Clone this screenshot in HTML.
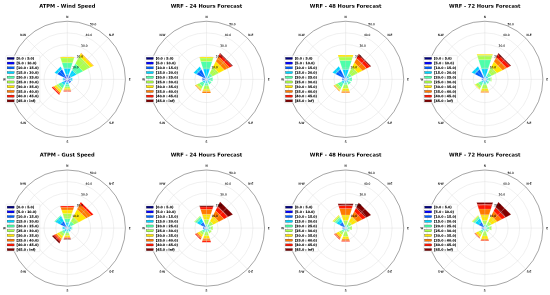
<!DOCTYPE html>
<html><head><meta charset="utf-8"><title>Wind roses</title>
<style>html,body{margin:0;padding:0;background:#fff}svg{display:block}text{font-family:"DejaVu Sans","Liberation Sans",sans-serif;text-rendering:geometricPrecision}path{stroke:#fff;stroke-width:0.14}</style></head><body>
<svg width="550" height="295" viewBox="0 0 550 295">
<defs><filter id="soft" x="0" y="0" width="550" height="295" filterUnits="userSpaceOnUse"><feGaussianBlur stdDeviation="0.3"/></filter></defs>
<rect width="550" height="295" fill="#fff"/>
<g filter="url(#soft)"><rect width="550" height="295" fill="#fff"/>
<g>
<text x="67.30" y="7.85" font-size="5.15" text-anchor="middle" font-weight="bold" fill="#000" transform="rotate(0.05 67.30 7.85)">ATPM - Wind Speed</text>
<path d="M67.30 79.35L67.14 78.85L67.46 78.85Z" fill="#000080"/>
<path d="M67.14 78.85L66.60 77.15L68.00 77.15L67.46 78.85Z" fill="#0000ff"/>
<path d="M66.60 77.15L65.86 74.84L68.74 74.84L68.00 77.15Z" fill="#0060ff"/>
<path d="M65.86 74.84L63.75 68.23L70.85 68.23L68.74 74.84Z" fill="#00d4ff"/>
<path d="M63.75 68.23L61.99 62.72L72.61 62.72L70.85 68.23Z" fill="#4dffaa"/>
<path d="M61.99 62.72L60.46 57.91L74.14 57.91L72.61 62.72Z" fill="#aaff4d"/>
<path d="M60.46 57.91L60.17 57.01L74.43 57.01L74.14 57.91Z" fill="#ffe600"/>
<path d="M67.30 79.35L67.53 78.91L67.74 79.12Z" fill="#000080"/>
<path d="M67.53 78.91L68.31 77.40L69.25 78.34L67.74 79.12Z" fill="#0000ff"/>
<path d="M68.31 77.40L69.23 75.62L71.03 77.42L69.25 78.34Z" fill="#0060ff"/>
<path d="M69.23 75.62L72.12 70.02L76.63 74.53L71.03 77.42Z" fill="#00d4ff"/>
<path d="M72.12 70.02L75.42 63.62L83.03 71.23L76.63 74.53Z" fill="#4dffaa"/>
<path d="M75.42 63.62L79.32 56.07L90.58 67.33L83.03 71.23Z" fill="#aaff4d"/>
<path d="M79.32 56.07L80.74 53.31L93.34 65.91L90.58 67.33Z" fill="#ffe600"/>
<path d="M80.74 53.31L80.97 52.87L93.78 65.68L93.34 65.91Z" fill="#ff7a00"/>
<path d="M67.30 79.35L67.80 79.19L67.80 79.51Z" fill="#000080"/>
<path d="M67.80 79.19L68.80 78.87L68.80 79.83L67.80 79.51Z" fill="#0000ff"/>
<path d="M68.80 78.87L70.10 78.45L70.10 80.25L68.80 79.83Z" fill="#0060ff"/>
<path d="M70.10 78.45L72.31 77.75L72.31 80.95L70.10 80.25Z" fill="#00d4ff"/>
<path d="M67.30 79.35L67.77 79.59L67.54 79.82Z" fill="#000080"/>
<path d="M67.77 79.59L69.73 80.60L68.55 81.78L67.54 79.82Z" fill="#0000ff"/>
<path d="M69.73 80.60L71.22 81.38L69.33 83.27L68.55 81.78Z" fill="#0060ff"/>
<path d="M67.30 79.35L67.46 79.85L67.14 79.85Z" fill="#000080"/>
<path d="M67.46 79.85L67.88 81.15L66.72 81.15L67.14 79.85Z" fill="#0000ff"/>
<path d="M67.88 81.15L68.26 82.36L66.34 82.36L66.72 81.15Z" fill="#0060ff"/>
<path d="M68.26 82.36L68.90 84.36L65.70 84.36L66.34 82.36Z" fill="#00d4ff"/>
<path d="M68.90 84.36L69.63 86.66L64.97 86.66L65.70 84.36Z" fill="#4dffaa"/>
<path d="M69.63 86.66L70.18 88.37L64.42 88.37L64.97 86.66Z" fill="#aaff4d"/>
<path d="M70.18 88.37L70.62 89.77L63.98 89.77L64.42 88.37Z" fill="#ffe600"/>
<path d="M70.62 89.77L70.91 90.67L63.69 90.67L63.98 89.77Z" fill="#ff7a00"/>
<path d="M70.91 90.67L71.17 91.47L63.43 91.47L63.69 90.67Z" fill="#ff1300"/>
<path d="M67.30 79.35L67.07 79.79L66.86 79.58Z" fill="#000080"/>
<path d="M67.07 79.79L66.38 81.13L65.52 80.27L66.86 79.58Z" fill="#0000ff"/>
<path d="M66.38 81.13L65.51 82.82L63.83 81.14L65.52 80.27Z" fill="#0060ff"/>
<path d="M65.51 82.82L64.14 85.48L61.17 82.51L63.83 81.14Z" fill="#00d4ff"/>
<path d="M64.14 85.48L62.58 88.50L58.15 84.07L61.17 82.51Z" fill="#4dffaa"/>
<path d="M62.58 88.50L61.38 90.81L55.84 85.27L58.15 84.07Z" fill="#aaff4d"/>
<path d="M61.38 90.81L60.42 92.68L53.97 86.23L55.84 85.27Z" fill="#ffe600"/>
<path d="M60.42 92.68L59.82 93.83L52.82 86.83L53.97 86.23Z" fill="#ff7a00"/>
<path d="M59.82 93.83L59.27 94.90L51.75 87.38L52.82 86.83Z" fill="#ff1300"/>
<path d="M67.30 79.35L66.80 79.51L66.80 79.19Z" fill="#000080"/>
<path d="M66.80 79.51L65.80 79.83L65.80 78.87L66.80 79.19Z" fill="#0000ff"/>
<path d="M65.80 79.83L64.09 80.37L64.09 78.33L65.80 78.87Z" fill="#0060ff"/>
<path d="M64.09 80.37L62.89 80.76L62.89 77.94L64.09 78.33Z" fill="#00d4ff"/>
<path d="M67.30 79.35L66.77 79.07L67.02 78.82Z" fill="#000080"/>
<path d="M66.77 79.07L64.37 77.84L65.79 76.42L67.02 78.82Z" fill="#0000ff"/>
<path d="M64.37 77.84L57.08 74.08L62.03 69.13L65.79 76.42Z" fill="#0060ff"/>
<path d="M57.08 74.08L54.50 72.75L60.70 66.55L62.03 69.13Z" fill="#00d4ff"/>
<line x1="67.30" y1="79.35" x2="65.32" y2="73.16" stroke="#fff" stroke-width="0.32" stroke-opacity="0.7"/>
<line x1="67.30" y1="79.35" x2="69.28" y2="73.16" stroke="#fff" stroke-width="0.32" stroke-opacity="0.7"/>
<line x1="67.30" y1="79.35" x2="70.28" y2="73.57" stroke="#fff" stroke-width="0.32" stroke-opacity="0.7"/>
<line x1="67.30" y1="79.35" x2="73.08" y2="76.37" stroke="#fff" stroke-width="0.32" stroke-opacity="0.7"/>
<line x1="67.30" y1="79.35" x2="72.31" y2="77.75" stroke="#fff" stroke-width="0.32" stroke-opacity="0.7"/>
<line x1="67.30" y1="79.35" x2="72.31" y2="80.95" stroke="#fff" stroke-width="0.32" stroke-opacity="0.7"/>
<line x1="67.30" y1="79.35" x2="71.22" y2="81.38" stroke="#fff" stroke-width="0.32" stroke-opacity="0.7"/>
<line x1="67.30" y1="79.35" x2="69.33" y2="83.27" stroke="#fff" stroke-width="0.32" stroke-opacity="0.7"/>
<line x1="67.30" y1="79.35" x2="69.28" y2="85.54" stroke="#fff" stroke-width="0.32" stroke-opacity="0.7"/>
<line x1="67.30" y1="79.35" x2="65.32" y2="85.54" stroke="#fff" stroke-width="0.32" stroke-opacity="0.7"/>
<line x1="67.30" y1="79.35" x2="64.32" y2="85.13" stroke="#fff" stroke-width="0.32" stroke-opacity="0.7"/>
<line x1="67.30" y1="79.35" x2="61.52" y2="82.33" stroke="#fff" stroke-width="0.32" stroke-opacity="0.7"/>
<line x1="67.30" y1="79.35" x2="62.89" y2="80.76" stroke="#fff" stroke-width="0.32" stroke-opacity="0.7"/>
<line x1="67.30" y1="79.35" x2="62.89" y2="77.94" stroke="#fff" stroke-width="0.32" stroke-opacity="0.7"/>
<line x1="67.30" y1="79.35" x2="61.52" y2="76.37" stroke="#fff" stroke-width="0.32" stroke-opacity="0.7"/>
<line x1="67.30" y1="79.35" x2="64.32" y2="73.57" stroke="#fff" stroke-width="0.32" stroke-opacity="0.7"/>
<circle cx="67.30" cy="79.35" r="1.1" fill="#fff" fill-opacity="0.45"/>
<circle cx="67.30" cy="79.35" r="11.62" fill="none" stroke="#d4d4d4" stroke-width="0.35"/>
<circle cx="67.30" cy="79.35" r="23.24" fill="none" stroke="#d4d4d4" stroke-width="0.35"/>
<circle cx="67.30" cy="79.35" r="34.86" fill="none" stroke="#d4d4d4" stroke-width="0.35"/>
<circle cx="67.30" cy="79.35" r="46.48" fill="none" stroke="#d4d4d4" stroke-width="0.35"/>
<line x1="67.30" y1="79.35" x2="67.30" y2="21.25" stroke="#d4d4d4" stroke-width="0.35"/>
<line x1="67.30" y1="79.35" x2="108.38" y2="38.27" stroke="#d4d4d4" stroke-width="0.35"/>
<line x1="67.30" y1="79.35" x2="125.40" y2="79.35" stroke="#d4d4d4" stroke-width="0.35"/>
<line x1="67.30" y1="79.35" x2="108.38" y2="120.43" stroke="#d4d4d4" stroke-width="0.35"/>
<line x1="67.30" y1="79.35" x2="67.30" y2="137.45" stroke="#d4d4d4" stroke-width="0.35"/>
<line x1="67.30" y1="79.35" x2="26.22" y2="120.43" stroke="#d4d4d4" stroke-width="0.35"/>
<line x1="67.30" y1="79.35" x2="9.20" y2="79.35" stroke="#d4d4d4" stroke-width="0.35"/>
<line x1="67.30" y1="79.35" x2="26.22" y2="38.27" stroke="#d4d4d4" stroke-width="0.35"/>
<circle cx="67.30" cy="79.35" r="58.10" fill="none" stroke="#2a2a2a" stroke-width="0.42"/>
<text x="67.30" y="18.00" font-size="2.9" text-anchor="middle" fill="#000" stroke="#000" stroke-width="0.09" transform="rotate(0.05 67.30 18.00)">N</text>
<text x="111.60" y="36.05" font-size="2.9" text-anchor="middle" fill="#000" stroke="#000" stroke-width="0.09" transform="rotate(0.05 111.60 36.05)">N-E</text>
<text x="129.60" y="80.40" font-size="2.9" text-anchor="middle" fill="#000" stroke="#000" stroke-width="0.09" transform="rotate(0.05 129.60 80.40)">E</text>
<text x="111.50" y="124.10" font-size="2.9" text-anchor="middle" fill="#000" stroke="#000" stroke-width="0.09" transform="rotate(0.05 111.50 124.10)">S-E</text>
<text x="67.30" y="142.75" font-size="2.9" text-anchor="middle" fill="#000" stroke="#000" stroke-width="0.09" transform="rotate(0.05 67.30 142.75)">S</text>
<text x="23.20" y="124.10" font-size="2.9" text-anchor="middle" fill="#000" stroke="#000" stroke-width="0.09" transform="rotate(0.05 23.20 124.10)">S-W</text>
<text x="4.40" y="80.40" font-size="2.9" text-anchor="middle" fill="#000" stroke="#000" stroke-width="0.09" transform="rotate(0.05 4.40 80.40)">W</text>
<text x="23.20" y="35.95" font-size="2.9" text-anchor="middle" fill="#000" stroke="#000" stroke-width="0.09" transform="rotate(0.05 23.20 35.95)">N-W</text>
<text x="75.45" y="68.21" font-size="2.9" text-anchor="middle" fill="#000" stroke="#000" stroke-width="0.05" transform="rotate(0.05 75.45 68.21)">10.0</text>
<text x="79.89" y="57.48" font-size="2.9" text-anchor="middle" fill="#000" stroke="#000" stroke-width="0.05" transform="rotate(0.05 79.89 57.48)">20.0</text>
<text x="84.34" y="46.74" font-size="2.9" text-anchor="middle" fill="#000" stroke="#000" stroke-width="0.05" transform="rotate(0.05 84.34 46.74)">30.0</text>
<text x="88.79" y="36.01" font-size="2.9" text-anchor="middle" fill="#000" stroke="#000" stroke-width="0.05" transform="rotate(0.05 88.79 36.01)">40.0</text>
<text x="93.23" y="25.27" font-size="2.9" text-anchor="middle" fill="#000" stroke="#000" stroke-width="0.05" transform="rotate(0.05 93.23 25.27)">50.0</text>
<rect x="5.95" y="55.45" width="33.9" height="47.4" rx="0.6" fill="#fff" fill-opacity="0.8" stroke="#d0d0d0" stroke-width="0.3"/>
<rect x="7.15" y="57.35" width="7.0" height="2.1" fill="#000080" stroke="#000" stroke-opacity="0.75" stroke-width="0.3"/>
<text x="16.55" y="59.59" font-size="3.2" font-weight="bold" fill="#000" stroke="#000" stroke-width="0.1" transform="rotate(0.05 16.55 59.59)">[0.0 : 5.0)</text>
<rect x="7.15" y="62.07" width="7.0" height="2.1" fill="#0000ff" stroke="#000" stroke-opacity="0.75" stroke-width="0.3"/>
<text x="16.55" y="64.31" font-size="3.2" font-weight="bold" fill="#000" stroke="#000" stroke-width="0.1" transform="rotate(0.05 16.55 64.31)">[5.0 : 10.0)</text>
<rect x="7.15" y="66.79" width="7.0" height="2.1" fill="#0060ff" stroke="#000" stroke-opacity="0.75" stroke-width="0.3"/>
<text x="16.55" y="69.03" font-size="3.2" font-weight="bold" fill="#000" stroke="#000" stroke-width="0.1" transform="rotate(0.05 16.55 69.03)">[10.0 : 15.0)</text>
<rect x="7.15" y="71.51" width="7.0" height="2.1" fill="#00d4ff" stroke="#000" stroke-opacity="0.75" stroke-width="0.3"/>
<text x="16.55" y="73.75" font-size="3.2" font-weight="bold" fill="#000" stroke="#000" stroke-width="0.1" transform="rotate(0.05 16.55 73.75)">[15.0 : 20.0)</text>
<rect x="7.15" y="76.23" width="7.0" height="2.1" fill="#4dffaa" stroke="#000" stroke-opacity="0.75" stroke-width="0.3"/>
<text x="16.55" y="78.47" font-size="3.2" font-weight="bold" fill="#000" stroke="#000" stroke-width="0.1" transform="rotate(0.05 16.55 78.47)">[20.0 : 25.0)</text>
<rect x="7.15" y="80.95" width="7.0" height="2.1" fill="#aaff4d" stroke="#000" stroke-opacity="0.75" stroke-width="0.3"/>
<text x="16.55" y="83.19" font-size="3.2" font-weight="bold" fill="#000" stroke="#000" stroke-width="0.1" transform="rotate(0.05 16.55 83.19)">[25.0 : 30.0)</text>
<rect x="7.15" y="85.67" width="7.0" height="2.1" fill="#ffe600" stroke="#000" stroke-opacity="0.75" stroke-width="0.3"/>
<text x="16.55" y="87.91" font-size="3.2" font-weight="bold" fill="#000" stroke="#000" stroke-width="0.1" transform="rotate(0.05 16.55 87.91)">[30.0 : 35.0)</text>
<rect x="7.15" y="90.39" width="7.0" height="2.1" fill="#ff7a00" stroke="#000" stroke-opacity="0.75" stroke-width="0.3"/>
<text x="16.55" y="92.63" font-size="3.2" font-weight="bold" fill="#000" stroke="#000" stroke-width="0.1" transform="rotate(0.05 16.55 92.63)">[35.0 : 40.0)</text>
<rect x="7.15" y="95.11" width="7.0" height="2.1" fill="#ff1300" stroke="#000" stroke-opacity="0.75" stroke-width="0.3"/>
<text x="16.55" y="97.35" font-size="3.2" font-weight="bold" fill="#000" stroke="#000" stroke-width="0.1" transform="rotate(0.05 16.55 97.35)">[40.0 : 45.0)</text>
<rect x="7.15" y="99.83" width="7.0" height="2.1" fill="#800000" stroke="#000" stroke-opacity="0.75" stroke-width="0.3"/>
<text x="16.55" y="102.07" font-size="3.2" font-weight="bold" fill="#000" stroke="#000" stroke-width="0.1" transform="rotate(0.05 16.55 102.07)">[45.0 : inf)</text>
</g>
<g>
<text x="206.47" y="7.85" font-size="5.15" text-anchor="middle" font-weight="bold" fill="#000" transform="rotate(0.05 206.47 7.85)">WRF - 24 Hours Forecast</text>
<path d="M206.47 79.35L206.37 79.05L206.57 79.05Z" fill="#000080"/>
<path d="M206.37 79.05L206.15 78.35L206.79 78.35L206.57 79.05Z" fill="#0000ff"/>
<path d="M206.15 78.35L205.96 77.75L206.98 77.75L206.79 78.35Z" fill="#0060ff"/>
<path d="M205.96 77.75L203.18 69.03L209.76 69.03L206.98 77.75Z" fill="#00d4ff"/>
<path d="M203.18 69.03L200.78 61.52L212.16 61.52L209.76 69.03Z" fill="#4dffaa"/>
<path d="M200.78 61.52L199.69 58.11L213.25 58.11L212.16 61.52Z" fill="#aaff4d"/>
<path d="M199.69 58.11L199.34 57.01L213.60 57.01L213.25 58.11Z" fill="#ffe600"/>
<path d="M206.47 79.35L206.61 79.08L206.74 79.21Z" fill="#000080"/>
<path d="M206.61 79.08L206.93 78.46L207.36 78.89L206.74 79.21Z" fill="#0000ff"/>
<path d="M206.93 78.46L207.20 77.93L207.89 78.62L207.36 78.89Z" fill="#0060ff"/>
<path d="M207.20 77.93L208.30 75.80L210.02 77.52L207.89 78.62Z" fill="#00d4ff"/>
<path d="M208.30 75.80L209.68 73.13L212.69 76.14L210.02 77.52Z" fill="#4dffaa"/>
<path d="M209.68 73.13L212.89 66.91L218.91 72.93L212.69 76.14Z" fill="#aaff4d"/>
<path d="M212.89 66.91L215.83 61.22L224.60 69.99L218.91 72.93Z" fill="#ffe600"/>
<path d="M215.83 61.22L218.44 56.16L229.66 67.38L224.60 69.99Z" fill="#ff7a00"/>
<path d="M218.44 56.16L219.63 53.85L231.97 66.19L229.66 67.38Z" fill="#ff1300"/>
<path d="M219.63 53.85L220.09 52.96L232.86 65.73L231.97 66.19Z" fill="#800000"/>
<path d="M206.47 79.35L206.77 79.25L206.77 79.45Z" fill="#000080"/>
<path d="M206.77 79.25L207.47 79.03L207.47 79.67L206.77 79.45Z" fill="#0000ff"/>
<path d="M207.47 79.03L208.07 78.84L208.07 79.86L207.47 79.67Z" fill="#0060ff"/>
<path d="M208.07 78.84L209.98 78.23L209.98 80.47L208.07 79.86Z" fill="#00d4ff"/>
<path d="M209.98 78.23L212.68 77.37L212.68 81.33L209.98 80.47Z" fill="#4dffaa"/>
<path d="M206.47 79.35L206.75 79.49L206.61 79.63Z" fill="#000080"/>
<path d="M206.75 79.49L207.40 79.83L206.95 80.28L206.61 79.63Z" fill="#0000ff"/>
<path d="M207.40 79.83L207.97 80.12L207.24 80.85L206.95 80.28Z" fill="#0060ff"/>
<path d="M207.97 80.12L209.74 81.04L208.16 82.62L207.24 80.85Z" fill="#00d4ff"/>
<path d="M209.74 81.04L211.70 82.05L209.17 84.58L208.16 82.62Z" fill="#4dffaa"/>
<path d="M206.47 79.35L206.57 79.65L206.37 79.65Z" fill="#000080"/>
<path d="M206.57 79.65L206.79 80.35L206.15 80.35L206.37 79.65Z" fill="#0000ff"/>
<path d="M206.79 80.35L206.98 80.95L205.96 80.95L206.15 80.35Z" fill="#0060ff"/>
<path d="M206.98 80.95L207.75 83.36L205.19 83.36L205.96 80.95Z" fill="#00d4ff"/>
<path d="M207.75 83.36L208.55 85.86L204.39 85.86L205.19 83.36Z" fill="#4dffaa"/>
<path d="M208.55 85.86L209.60 89.17L203.34 89.17L204.39 85.86Z" fill="#aaff4d"/>
<path d="M209.60 89.17L210.37 91.57L202.57 91.57L203.34 89.17Z" fill="#ffe600"/>
<path d="M210.37 91.57L210.85 93.07L202.09 93.07L202.57 91.57Z" fill="#ff7a00"/>
<path d="M206.47 79.35L206.33 79.62L206.20 79.49Z" fill="#000080"/>
<path d="M206.33 79.62L206.01 80.24L205.58 79.81L206.20 79.49Z" fill="#0000ff"/>
<path d="M206.01 80.24L205.74 80.77L205.05 80.08L205.58 79.81Z" fill="#0060ff"/>
<path d="M205.74 80.77L204.41 83.35L202.47 81.41L205.05 80.08Z" fill="#00d4ff"/>
<path d="M204.41 83.35L202.66 86.73L199.09 83.16L202.47 81.41Z" fill="#4dffaa"/>
<path d="M202.66 86.73L201.42 89.12L196.70 84.40L199.09 83.16Z" fill="#aaff4d"/>
<path d="M201.42 89.12L200.74 90.46L195.36 85.08L196.70 84.40Z" fill="#ffe600"/>
<path d="M200.74 90.46L200.51 90.90L194.92 85.31L195.36 85.08Z" fill="#ff7a00"/>
<path d="M206.47 79.35L206.07 79.48L206.07 79.22Z" fill="#000080"/>
<path d="M206.07 79.48L205.17 79.77L205.17 78.93L206.07 79.22Z" fill="#0000ff"/>
<path d="M205.17 79.77L202.36 80.66L202.36 78.04L205.17 78.93Z" fill="#0060ff"/>
<path d="M206.47 79.35L206.11 79.17L206.29 78.99Z" fill="#000080"/>
<path d="M206.11 79.17L205.40 78.80L205.92 78.28L206.29 78.99Z" fill="#0000ff"/>
<path d="M205.40 78.80L196.43 74.17L201.29 69.31L205.92 78.28Z" fill="#0060ff"/>
<path d="M196.43 74.17L193.59 72.70L199.82 66.47L201.29 69.31Z" fill="#00d4ff"/>
<line x1="206.47" y1="79.35" x2="204.49" y2="73.16" stroke="#fff" stroke-width="0.32" stroke-opacity="0.7"/>
<line x1="206.47" y1="79.35" x2="208.45" y2="73.16" stroke="#fff" stroke-width="0.32" stroke-opacity="0.7"/>
<line x1="206.47" y1="79.35" x2="209.45" y2="73.57" stroke="#fff" stroke-width="0.32" stroke-opacity="0.7"/>
<line x1="206.47" y1="79.35" x2="212.25" y2="76.37" stroke="#fff" stroke-width="0.32" stroke-opacity="0.7"/>
<line x1="206.47" y1="79.35" x2="212.66" y2="77.37" stroke="#fff" stroke-width="0.32" stroke-opacity="0.7"/>
<line x1="206.47" y1="79.35" x2="212.66" y2="81.33" stroke="#fff" stroke-width="0.32" stroke-opacity="0.7"/>
<line x1="206.47" y1="79.35" x2="211.70" y2="82.05" stroke="#fff" stroke-width="0.32" stroke-opacity="0.7"/>
<line x1="206.47" y1="79.35" x2="209.17" y2="84.58" stroke="#fff" stroke-width="0.32" stroke-opacity="0.7"/>
<line x1="206.47" y1="79.35" x2="208.45" y2="85.54" stroke="#fff" stroke-width="0.32" stroke-opacity="0.7"/>
<line x1="206.47" y1="79.35" x2="204.49" y2="85.54" stroke="#fff" stroke-width="0.32" stroke-opacity="0.7"/>
<line x1="206.47" y1="79.35" x2="203.49" y2="85.13" stroke="#fff" stroke-width="0.32" stroke-opacity="0.7"/>
<line x1="206.47" y1="79.35" x2="200.69" y2="82.33" stroke="#fff" stroke-width="0.32" stroke-opacity="0.7"/>
<line x1="206.47" y1="79.35" x2="202.36" y2="80.66" stroke="#fff" stroke-width="0.32" stroke-opacity="0.7"/>
<line x1="206.47" y1="79.35" x2="202.36" y2="78.04" stroke="#fff" stroke-width="0.32" stroke-opacity="0.7"/>
<line x1="206.47" y1="79.35" x2="200.69" y2="76.37" stroke="#fff" stroke-width="0.32" stroke-opacity="0.7"/>
<line x1="206.47" y1="79.35" x2="203.49" y2="73.57" stroke="#fff" stroke-width="0.32" stroke-opacity="0.7"/>
<circle cx="206.47" cy="79.35" r="1.1" fill="#fff" fill-opacity="0.45"/>
<circle cx="206.47" cy="79.35" r="11.62" fill="none" stroke="#d4d4d4" stroke-width="0.35"/>
<circle cx="206.47" cy="79.35" r="23.24" fill="none" stroke="#d4d4d4" stroke-width="0.35"/>
<circle cx="206.47" cy="79.35" r="34.86" fill="none" stroke="#d4d4d4" stroke-width="0.35"/>
<circle cx="206.47" cy="79.35" r="46.48" fill="none" stroke="#d4d4d4" stroke-width="0.35"/>
<line x1="206.47" y1="79.35" x2="206.47" y2="21.25" stroke="#d4d4d4" stroke-width="0.35"/>
<line x1="206.47" y1="79.35" x2="247.55" y2="38.27" stroke="#d4d4d4" stroke-width="0.35"/>
<line x1="206.47" y1="79.35" x2="264.57" y2="79.35" stroke="#d4d4d4" stroke-width="0.35"/>
<line x1="206.47" y1="79.35" x2="247.55" y2="120.43" stroke="#d4d4d4" stroke-width="0.35"/>
<line x1="206.47" y1="79.35" x2="206.47" y2="137.45" stroke="#d4d4d4" stroke-width="0.35"/>
<line x1="206.47" y1="79.35" x2="165.39" y2="120.43" stroke="#d4d4d4" stroke-width="0.35"/>
<line x1="206.47" y1="79.35" x2="148.37" y2="79.35" stroke="#d4d4d4" stroke-width="0.35"/>
<line x1="206.47" y1="79.35" x2="165.39" y2="38.27" stroke="#d4d4d4" stroke-width="0.35"/>
<circle cx="206.47" cy="79.35" r="58.10" fill="none" stroke="#2a2a2a" stroke-width="0.42"/>
<text x="206.47" y="18.00" font-size="2.9" text-anchor="middle" fill="#000" stroke="#000" stroke-width="0.09" transform="rotate(0.05 206.47 18.00)">N</text>
<text x="250.77" y="36.05" font-size="2.9" text-anchor="middle" fill="#000" stroke="#000" stroke-width="0.09" transform="rotate(0.05 250.77 36.05)">N-E</text>
<text x="268.77" y="80.40" font-size="2.9" text-anchor="middle" fill="#000" stroke="#000" stroke-width="0.09" transform="rotate(0.05 268.77 80.40)">E</text>
<text x="250.67" y="124.10" font-size="2.9" text-anchor="middle" fill="#000" stroke="#000" stroke-width="0.09" transform="rotate(0.05 250.67 124.10)">S-E</text>
<text x="206.47" y="142.75" font-size="2.9" text-anchor="middle" fill="#000" stroke="#000" stroke-width="0.09" transform="rotate(0.05 206.47 142.75)">S</text>
<text x="162.37" y="124.10" font-size="2.9" text-anchor="middle" fill="#000" stroke="#000" stroke-width="0.09" transform="rotate(0.05 162.37 124.10)">S-W</text>
<text x="143.57" y="80.40" font-size="2.9" text-anchor="middle" fill="#000" stroke="#000" stroke-width="0.09" transform="rotate(0.05 143.57 80.40)">W</text>
<text x="162.37" y="35.95" font-size="2.9" text-anchor="middle" fill="#000" stroke="#000" stroke-width="0.09" transform="rotate(0.05 162.37 35.95)">N-W</text>
<text x="214.62" y="68.21" font-size="2.9" text-anchor="middle" fill="#000" stroke="#000" stroke-width="0.05" transform="rotate(0.05 214.62 68.21)">10.0</text>
<text x="219.06" y="57.48" font-size="2.9" text-anchor="middle" fill="#000" stroke="#000" stroke-width="0.05" transform="rotate(0.05 219.06 57.48)">20.0</text>
<text x="223.51" y="46.74" font-size="2.9" text-anchor="middle" fill="#000" stroke="#000" stroke-width="0.05" transform="rotate(0.05 223.51 46.74)">30.0</text>
<text x="227.96" y="36.01" font-size="2.9" text-anchor="middle" fill="#000" stroke="#000" stroke-width="0.05" transform="rotate(0.05 227.96 36.01)">40.0</text>
<text x="232.40" y="25.27" font-size="2.9" text-anchor="middle" fill="#000" stroke="#000" stroke-width="0.05" transform="rotate(0.05 232.40 25.27)">50.0</text>
<rect x="145.12" y="55.45" width="33.9" height="47.4" rx="0.6" fill="#fff" fill-opacity="0.8" stroke="#d0d0d0" stroke-width="0.3"/>
<rect x="146.32" y="57.35" width="7.0" height="2.1" fill="#000080" stroke="#000" stroke-opacity="0.75" stroke-width="0.3"/>
<text x="155.72" y="59.59" font-size="3.2" font-weight="bold" fill="#000" stroke="#000" stroke-width="0.1" transform="rotate(0.05 155.72 59.59)">[0.0 : 5.0)</text>
<rect x="146.32" y="62.07" width="7.0" height="2.1" fill="#0000ff" stroke="#000" stroke-opacity="0.75" stroke-width="0.3"/>
<text x="155.72" y="64.31" font-size="3.2" font-weight="bold" fill="#000" stroke="#000" stroke-width="0.1" transform="rotate(0.05 155.72 64.31)">[5.0 : 10.0)</text>
<rect x="146.32" y="66.79" width="7.0" height="2.1" fill="#0060ff" stroke="#000" stroke-opacity="0.75" stroke-width="0.3"/>
<text x="155.72" y="69.03" font-size="3.2" font-weight="bold" fill="#000" stroke="#000" stroke-width="0.1" transform="rotate(0.05 155.72 69.03)">[10.0 : 15.0)</text>
<rect x="146.32" y="71.51" width="7.0" height="2.1" fill="#00d4ff" stroke="#000" stroke-opacity="0.75" stroke-width="0.3"/>
<text x="155.72" y="73.75" font-size="3.2" font-weight="bold" fill="#000" stroke="#000" stroke-width="0.1" transform="rotate(0.05 155.72 73.75)">[15.0 : 20.0)</text>
<rect x="146.32" y="76.23" width="7.0" height="2.1" fill="#4dffaa" stroke="#000" stroke-opacity="0.75" stroke-width="0.3"/>
<text x="155.72" y="78.47" font-size="3.2" font-weight="bold" fill="#000" stroke="#000" stroke-width="0.1" transform="rotate(0.05 155.72 78.47)">[20.0 : 25.0)</text>
<rect x="146.32" y="80.95" width="7.0" height="2.1" fill="#aaff4d" stroke="#000" stroke-opacity="0.75" stroke-width="0.3"/>
<text x="155.72" y="83.19" font-size="3.2" font-weight="bold" fill="#000" stroke="#000" stroke-width="0.1" transform="rotate(0.05 155.72 83.19)">[25.0 : 30.0)</text>
<rect x="146.32" y="85.67" width="7.0" height="2.1" fill="#ffe600" stroke="#000" stroke-opacity="0.75" stroke-width="0.3"/>
<text x="155.72" y="87.91" font-size="3.2" font-weight="bold" fill="#000" stroke="#000" stroke-width="0.1" transform="rotate(0.05 155.72 87.91)">[30.0 : 35.0)</text>
<rect x="146.32" y="90.39" width="7.0" height="2.1" fill="#ff7a00" stroke="#000" stroke-opacity="0.75" stroke-width="0.3"/>
<text x="155.72" y="92.63" font-size="3.2" font-weight="bold" fill="#000" stroke="#000" stroke-width="0.1" transform="rotate(0.05 155.72 92.63)">[35.0 : 40.0)</text>
<rect x="146.32" y="95.11" width="7.0" height="2.1" fill="#ff1300" stroke="#000" stroke-opacity="0.75" stroke-width="0.3"/>
<text x="155.72" y="97.35" font-size="3.2" font-weight="bold" fill="#000" stroke="#000" stroke-width="0.1" transform="rotate(0.05 155.72 97.35)">[40.0 : 45.0)</text>
<rect x="146.32" y="99.83" width="7.0" height="2.1" fill="#800000" stroke="#000" stroke-opacity="0.75" stroke-width="0.3"/>
<text x="155.72" y="102.07" font-size="3.2" font-weight="bold" fill="#000" stroke="#000" stroke-width="0.1" transform="rotate(0.05 155.72 102.07)">[45.0 : inf)</text>
</g>
<g>
<text x="345.63" y="7.85" font-size="5.15" text-anchor="middle" font-weight="bold" fill="#000" transform="rotate(0.05 345.63 7.85)">WRF - 48 Hours Forecast</text>
<path d="M345.63 79.35L345.53 79.05L345.73 79.05Z" fill="#000080"/>
<path d="M345.53 79.05L345.31 78.35L345.95 78.35L345.73 79.05Z" fill="#0000ff"/>
<path d="M345.31 78.35L345.12 77.75L346.14 77.75L345.95 78.35Z" fill="#0060ff"/>
<path d="M345.12 77.75L342.50 69.53L348.76 69.53L346.14 77.75Z" fill="#00d4ff"/>
<path d="M342.50 69.53L339.59 60.42L351.67 60.42L348.76 69.53Z" fill="#4dffaa"/>
<path d="M339.59 60.42L338.53 57.11L352.73 57.11L351.67 60.42Z" fill="#aaff4d"/>
<path d="M338.53 57.11L337.86 55.01L353.40 55.01L352.73 57.11Z" fill="#ffe600"/>
<path d="M345.63 79.35L345.77 79.08L345.90 79.21Z" fill="#000080"/>
<path d="M345.77 79.08L346.09 78.46L346.52 78.89L345.90 79.21Z" fill="#0000ff"/>
<path d="M346.09 78.46L346.36 77.93L347.05 78.62L346.52 78.89Z" fill="#0060ff"/>
<path d="M346.36 77.93L347.46 75.80L349.18 77.52L347.05 78.62Z" fill="#00d4ff"/>
<path d="M347.46 75.80L348.84 73.13L351.85 76.14L349.18 77.52Z" fill="#4dffaa"/>
<path d="M348.84 73.13L352.05 66.91L358.07 72.93L351.85 76.14Z" fill="#aaff4d"/>
<path d="M352.05 66.91L354.34 62.47L362.51 70.64L358.07 72.93Z" fill="#ffe600"/>
<path d="M354.34 62.47L356.45 58.38L366.60 68.53L362.51 70.64Z" fill="#ff7a00"/>
<path d="M356.45 58.38L358.29 54.82L370.16 66.69L366.60 68.53Z" fill="#ff1300"/>
<path d="M358.29 54.82L358.79 53.85L371.13 66.19L370.16 66.69Z" fill="#800000"/>
<path d="M345.63 79.35L345.93 79.25L345.93 79.45Z" fill="#000080"/>
<path d="M345.93 79.25L346.63 79.03L346.63 79.67L345.93 79.45Z" fill="#0000ff"/>
<path d="M346.63 79.03L347.23 78.84L347.23 79.86L346.63 79.67Z" fill="#0060ff"/>
<path d="M347.23 78.84L349.14 78.23L349.14 80.47L347.23 79.86Z" fill="#00d4ff"/>
<path d="M349.14 78.23L351.94 77.34L351.94 81.36L349.14 80.47Z" fill="#4dffaa"/>
<path d="M345.63 79.35L345.91 79.49L345.77 79.63Z" fill="#000080"/>
<path d="M345.91 79.49L346.56 79.83L346.11 80.28L345.77 79.63Z" fill="#0000ff"/>
<path d="M346.56 79.83L347.13 80.12L346.40 80.85L346.11 80.28Z" fill="#0060ff"/>
<path d="M347.13 80.12L348.90 81.04L347.32 82.62L346.40 80.85Z" fill="#00d4ff"/>
<path d="M348.90 81.04L351.05 82.15L348.43 84.77L347.32 82.62Z" fill="#4dffaa"/>
<path d="M345.63 79.35L345.73 79.65L345.53 79.65Z" fill="#000080"/>
<path d="M345.73 79.65L345.95 80.35L345.31 80.35L345.53 79.65Z" fill="#0000ff"/>
<path d="M345.95 80.35L346.14 80.95L345.12 80.95L345.31 80.35Z" fill="#0060ff"/>
<path d="M346.14 80.95L346.75 82.86L344.51 82.86L345.12 80.95Z" fill="#00d4ff"/>
<path d="M346.75 82.86L347.39 84.86L343.87 84.86L344.51 82.86Z" fill="#4dffaa"/>
<path d="M347.39 84.86L348.57 88.57L342.69 88.57L343.87 84.86Z" fill="#aaff4d"/>
<path d="M348.57 88.57L349.53 91.57L341.73 91.57L342.69 88.57Z" fill="#ffe600"/>
<path d="M349.53 91.57L349.88 92.67L341.38 92.67L341.73 91.57Z" fill="#ff7a00"/>
<path d="M345.63 79.35L345.49 79.62L345.36 79.49Z" fill="#000080"/>
<path d="M345.49 79.62L345.17 80.24L344.74 79.81L345.36 79.49Z" fill="#0000ff"/>
<path d="M345.17 80.24L344.90 80.77L344.21 80.08L344.74 79.81Z" fill="#0060ff"/>
<path d="M344.90 80.77L343.34 83.79L341.19 81.64L344.21 80.08Z" fill="#00d4ff"/>
<path d="M343.34 83.79L341.36 87.61L337.37 83.62L341.19 81.64Z" fill="#4dffaa"/>
<path d="M341.36 87.61L340.13 90.01L334.97 84.85L337.37 83.62Z" fill="#aaff4d"/>
<path d="M340.13 90.01L339.67 90.90L334.08 85.31L334.97 84.85Z" fill="#ffe600"/>
<path d="M339.67 90.90L339.39 91.44L333.54 85.59L334.08 85.31Z" fill="#ff7a00"/>
<path d="M345.63 79.35L345.23 79.48L345.23 79.22Z" fill="#000080"/>
<path d="M345.23 79.48L344.33 79.77L344.33 78.93L345.23 79.22Z" fill="#0000ff"/>
<path d="M344.33 79.77L342.12 80.47L342.12 78.23L344.33 78.93Z" fill="#0060ff"/>
<path d="M345.63 79.35L345.27 79.17L345.45 78.99Z" fill="#000080"/>
<path d="M345.27 79.17L344.56 78.80L345.08 78.28L345.45 78.99Z" fill="#0000ff"/>
<path d="M344.56 78.80L335.41 74.08L340.36 69.13L345.08 78.28Z" fill="#0060ff"/>
<path d="M335.41 74.08L332.48 72.56L338.84 66.20L340.36 69.13Z" fill="#00d4ff"/>
<line x1="345.63" y1="79.35" x2="343.65" y2="73.16" stroke="#fff" stroke-width="0.32" stroke-opacity="0.7"/>
<line x1="345.63" y1="79.35" x2="347.61" y2="73.16" stroke="#fff" stroke-width="0.32" stroke-opacity="0.7"/>
<line x1="345.63" y1="79.35" x2="348.61" y2="73.57" stroke="#fff" stroke-width="0.32" stroke-opacity="0.7"/>
<line x1="345.63" y1="79.35" x2="351.41" y2="76.37" stroke="#fff" stroke-width="0.32" stroke-opacity="0.7"/>
<line x1="345.63" y1="79.35" x2="351.82" y2="77.37" stroke="#fff" stroke-width="0.32" stroke-opacity="0.7"/>
<line x1="345.63" y1="79.35" x2="351.82" y2="81.33" stroke="#fff" stroke-width="0.32" stroke-opacity="0.7"/>
<line x1="345.63" y1="79.35" x2="351.05" y2="82.15" stroke="#fff" stroke-width="0.32" stroke-opacity="0.7"/>
<line x1="345.63" y1="79.35" x2="348.43" y2="84.77" stroke="#fff" stroke-width="0.32" stroke-opacity="0.7"/>
<line x1="345.63" y1="79.35" x2="347.61" y2="85.54" stroke="#fff" stroke-width="0.32" stroke-opacity="0.7"/>
<line x1="345.63" y1="79.35" x2="343.65" y2="85.54" stroke="#fff" stroke-width="0.32" stroke-opacity="0.7"/>
<line x1="345.63" y1="79.35" x2="342.65" y2="85.13" stroke="#fff" stroke-width="0.32" stroke-opacity="0.7"/>
<line x1="345.63" y1="79.35" x2="339.85" y2="82.33" stroke="#fff" stroke-width="0.32" stroke-opacity="0.7"/>
<line x1="345.63" y1="79.35" x2="342.12" y2="80.47" stroke="#fff" stroke-width="0.32" stroke-opacity="0.7"/>
<line x1="345.63" y1="79.35" x2="342.12" y2="78.23" stroke="#fff" stroke-width="0.32" stroke-opacity="0.7"/>
<line x1="345.63" y1="79.35" x2="339.85" y2="76.37" stroke="#fff" stroke-width="0.32" stroke-opacity="0.7"/>
<line x1="345.63" y1="79.35" x2="342.65" y2="73.57" stroke="#fff" stroke-width="0.32" stroke-opacity="0.7"/>
<circle cx="345.63" cy="79.35" r="1.1" fill="#fff" fill-opacity="0.45"/>
<circle cx="345.63" cy="79.35" r="11.62" fill="none" stroke="#d4d4d4" stroke-width="0.35"/>
<circle cx="345.63" cy="79.35" r="23.24" fill="none" stroke="#d4d4d4" stroke-width="0.35"/>
<circle cx="345.63" cy="79.35" r="34.86" fill="none" stroke="#d4d4d4" stroke-width="0.35"/>
<circle cx="345.63" cy="79.35" r="46.48" fill="none" stroke="#d4d4d4" stroke-width="0.35"/>
<line x1="345.63" y1="79.35" x2="345.63" y2="21.25" stroke="#d4d4d4" stroke-width="0.35"/>
<line x1="345.63" y1="79.35" x2="386.71" y2="38.27" stroke="#d4d4d4" stroke-width="0.35"/>
<line x1="345.63" y1="79.35" x2="403.73" y2="79.35" stroke="#d4d4d4" stroke-width="0.35"/>
<line x1="345.63" y1="79.35" x2="386.71" y2="120.43" stroke="#d4d4d4" stroke-width="0.35"/>
<line x1="345.63" y1="79.35" x2="345.63" y2="137.45" stroke="#d4d4d4" stroke-width="0.35"/>
<line x1="345.63" y1="79.35" x2="304.55" y2="120.43" stroke="#d4d4d4" stroke-width="0.35"/>
<line x1="345.63" y1="79.35" x2="287.53" y2="79.35" stroke="#d4d4d4" stroke-width="0.35"/>
<line x1="345.63" y1="79.35" x2="304.55" y2="38.27" stroke="#d4d4d4" stroke-width="0.35"/>
<circle cx="345.63" cy="79.35" r="58.10" fill="none" stroke="#2a2a2a" stroke-width="0.42"/>
<text x="345.63" y="18.00" font-size="2.9" text-anchor="middle" fill="#000" stroke="#000" stroke-width="0.09" transform="rotate(0.05 345.63 18.00)">N</text>
<text x="389.93" y="36.05" font-size="2.9" text-anchor="middle" fill="#000" stroke="#000" stroke-width="0.09" transform="rotate(0.05 389.93 36.05)">N-E</text>
<text x="407.93" y="80.40" font-size="2.9" text-anchor="middle" fill="#000" stroke="#000" stroke-width="0.09" transform="rotate(0.05 407.93 80.40)">E</text>
<text x="389.83" y="124.10" font-size="2.9" text-anchor="middle" fill="#000" stroke="#000" stroke-width="0.09" transform="rotate(0.05 389.83 124.10)">S-E</text>
<text x="345.63" y="142.75" font-size="2.9" text-anchor="middle" fill="#000" stroke="#000" stroke-width="0.09" transform="rotate(0.05 345.63 142.75)">S</text>
<text x="301.53" y="124.10" font-size="2.9" text-anchor="middle" fill="#000" stroke="#000" stroke-width="0.09" transform="rotate(0.05 301.53 124.10)">S-W</text>
<text x="282.73" y="80.40" font-size="2.9" text-anchor="middle" fill="#000" stroke="#000" stroke-width="0.09" transform="rotate(0.05 282.73 80.40)">W</text>
<text x="301.53" y="35.95" font-size="2.9" text-anchor="middle" fill="#000" stroke="#000" stroke-width="0.09" transform="rotate(0.05 301.53 35.95)">N-W</text>
<text x="353.78" y="68.21" font-size="2.9" text-anchor="middle" fill="#000" stroke="#000" stroke-width="0.05" transform="rotate(0.05 353.78 68.21)">10.0</text>
<text x="358.22" y="57.48" font-size="2.9" text-anchor="middle" fill="#000" stroke="#000" stroke-width="0.05" transform="rotate(0.05 358.22 57.48)">20.0</text>
<text x="362.67" y="46.74" font-size="2.9" text-anchor="middle" fill="#000" stroke="#000" stroke-width="0.05" transform="rotate(0.05 362.67 46.74)">30.0</text>
<text x="367.12" y="36.01" font-size="2.9" text-anchor="middle" fill="#000" stroke="#000" stroke-width="0.05" transform="rotate(0.05 367.12 36.01)">40.0</text>
<text x="371.56" y="25.27" font-size="2.9" text-anchor="middle" fill="#000" stroke="#000" stroke-width="0.05" transform="rotate(0.05 371.56 25.27)">50.0</text>
<rect x="284.28" y="55.45" width="33.9" height="47.4" rx="0.6" fill="#fff" fill-opacity="0.8" stroke="#d0d0d0" stroke-width="0.3"/>
<rect x="285.48" y="57.35" width="7.0" height="2.1" fill="#000080" stroke="#000" stroke-opacity="0.75" stroke-width="0.3"/>
<text x="294.88" y="59.59" font-size="3.2" font-weight="bold" fill="#000" stroke="#000" stroke-width="0.1" transform="rotate(0.05 294.88 59.59)">[0.0 : 5.0)</text>
<rect x="285.48" y="62.07" width="7.0" height="2.1" fill="#0000ff" stroke="#000" stroke-opacity="0.75" stroke-width="0.3"/>
<text x="294.88" y="64.31" font-size="3.2" font-weight="bold" fill="#000" stroke="#000" stroke-width="0.1" transform="rotate(0.05 294.88 64.31)">[5.0 : 10.0)</text>
<rect x="285.48" y="66.79" width="7.0" height="2.1" fill="#0060ff" stroke="#000" stroke-opacity="0.75" stroke-width="0.3"/>
<text x="294.88" y="69.03" font-size="3.2" font-weight="bold" fill="#000" stroke="#000" stroke-width="0.1" transform="rotate(0.05 294.88 69.03)">[10.0 : 15.0)</text>
<rect x="285.48" y="71.51" width="7.0" height="2.1" fill="#00d4ff" stroke="#000" stroke-opacity="0.75" stroke-width="0.3"/>
<text x="294.88" y="73.75" font-size="3.2" font-weight="bold" fill="#000" stroke="#000" stroke-width="0.1" transform="rotate(0.05 294.88 73.75)">[15.0 : 20.0)</text>
<rect x="285.48" y="76.23" width="7.0" height="2.1" fill="#4dffaa" stroke="#000" stroke-opacity="0.75" stroke-width="0.3"/>
<text x="294.88" y="78.47" font-size="3.2" font-weight="bold" fill="#000" stroke="#000" stroke-width="0.1" transform="rotate(0.05 294.88 78.47)">[20.0 : 25.0)</text>
<rect x="285.48" y="80.95" width="7.0" height="2.1" fill="#aaff4d" stroke="#000" stroke-opacity="0.75" stroke-width="0.3"/>
<text x="294.88" y="83.19" font-size="3.2" font-weight="bold" fill="#000" stroke="#000" stroke-width="0.1" transform="rotate(0.05 294.88 83.19)">[25.0 : 30.0)</text>
<rect x="285.48" y="85.67" width="7.0" height="2.1" fill="#ffe600" stroke="#000" stroke-opacity="0.75" stroke-width="0.3"/>
<text x="294.88" y="87.91" font-size="3.2" font-weight="bold" fill="#000" stroke="#000" stroke-width="0.1" transform="rotate(0.05 294.88 87.91)">[30.0 : 35.0)</text>
<rect x="285.48" y="90.39" width="7.0" height="2.1" fill="#ff7a00" stroke="#000" stroke-opacity="0.75" stroke-width="0.3"/>
<text x="294.88" y="92.63" font-size="3.2" font-weight="bold" fill="#000" stroke="#000" stroke-width="0.1" transform="rotate(0.05 294.88 92.63)">[35.0 : 40.0)</text>
<rect x="285.48" y="95.11" width="7.0" height="2.1" fill="#ff1300" stroke="#000" stroke-opacity="0.75" stroke-width="0.3"/>
<text x="294.88" y="97.35" font-size="3.2" font-weight="bold" fill="#000" stroke="#000" stroke-width="0.1" transform="rotate(0.05 294.88 97.35)">[40.0 : 45.0)</text>
<rect x="285.48" y="99.83" width="7.0" height="2.1" fill="#800000" stroke="#000" stroke-opacity="0.75" stroke-width="0.3"/>
<text x="294.88" y="102.07" font-size="3.2" font-weight="bold" fill="#000" stroke="#000" stroke-width="0.1" transform="rotate(0.05 294.88 102.07)">[45.0 : inf)</text>
</g>
<g>
<text x="484.80" y="7.85" font-size="5.15" text-anchor="middle" font-weight="bold" fill="#000" transform="rotate(0.05 484.80 7.85)">WRF - 72 Hours Forecast</text>
<path d="M484.80 79.35L484.70 79.05L484.90 79.05Z" fill="#000080"/>
<path d="M484.70 79.05L484.48 78.35L485.12 78.35L484.90 79.05Z" fill="#0000ff"/>
<path d="M484.48 78.35L484.29 77.75L485.31 77.75L485.12 78.35Z" fill="#0060ff"/>
<path d="M484.29 77.75L481.44 68.83L488.16 68.83L485.31 77.75Z" fill="#00d4ff"/>
<path d="M481.44 68.83L478.53 59.72L491.07 59.72L488.16 68.83Z" fill="#4dffaa"/>
<path d="M478.53 59.72L477.13 55.31L492.47 55.31L491.07 59.72Z" fill="#aaff4d"/>
<path d="M477.13 55.31L476.76 54.16L492.84 54.16L492.47 55.31Z" fill="#ffe600"/>
<path d="M484.80 79.35L484.94 79.08L485.07 79.21Z" fill="#000080"/>
<path d="M484.94 79.08L485.26 78.46L485.69 78.89L485.07 79.21Z" fill="#0000ff"/>
<path d="M485.26 78.46L485.53 77.93L486.22 78.62L485.69 78.89Z" fill="#0060ff"/>
<path d="M485.53 77.93L486.63 75.80L488.35 77.52L486.22 78.62Z" fill="#00d4ff"/>
<path d="M486.63 75.80L488.33 72.51L491.64 75.82L488.35 77.52Z" fill="#4dffaa"/>
<path d="M488.33 72.51L491.13 67.09L497.06 73.02L491.64 75.82Z" fill="#aaff4d"/>
<path d="M491.13 67.09L493.97 61.58L502.57 70.18L497.06 73.02Z" fill="#ffe600"/>
<path d="M493.97 61.58L496.17 57.31L506.84 67.98L502.57 70.18Z" fill="#ff7a00"/>
<path d="M496.17 57.31L497.78 54.20L509.95 66.37L506.84 67.98Z" fill="#ff1300"/>
<path d="M497.78 54.20L498.38 53.05L511.10 65.77L509.95 66.37Z" fill="#800000"/>
<path d="M484.80 79.35L485.10 79.25L485.10 79.45Z" fill="#000080"/>
<path d="M485.10 79.25L485.80 79.03L485.80 79.67L485.10 79.45Z" fill="#0000ff"/>
<path d="M485.80 79.03L486.40 78.84L486.40 79.86L485.80 79.67Z" fill="#0060ff"/>
<path d="M486.40 78.84L488.01 78.33L488.01 80.37L486.40 79.86Z" fill="#00d4ff"/>
<path d="M488.01 78.33L490.61 77.50L490.61 81.20L488.01 80.37Z" fill="#4dffaa"/>
<path d="M490.61 77.50L491.51 77.21L491.51 81.49L490.61 81.20Z" fill="#aaff4d"/>
<path d="M484.80 79.35L485.08 79.49L484.94 79.63Z" fill="#000080"/>
<path d="M485.08 79.49L485.73 79.83L485.28 80.28L484.94 79.63Z" fill="#0000ff"/>
<path d="M485.73 79.83L486.30 80.12L485.57 80.85L485.28 80.28Z" fill="#0060ff"/>
<path d="M486.30 80.12L487.88 80.94L486.39 82.43L485.57 80.85Z" fill="#00d4ff"/>
<path d="M487.88 80.94L489.47 81.76L487.21 84.02L486.39 82.43Z" fill="#4dffaa"/>
<path d="M484.80 79.35L484.90 79.65L484.70 79.65Z" fill="#000080"/>
<path d="M484.90 79.65L485.12 80.35L484.48 80.35L484.70 79.65Z" fill="#0000ff"/>
<path d="M485.12 80.35L485.31 80.95L484.29 80.95L484.48 80.35Z" fill="#0060ff"/>
<path d="M485.31 80.95L485.98 83.06L483.62 83.06L484.29 80.95Z" fill="#00d4ff"/>
<path d="M485.98 83.06L486.56 84.86L483.04 84.86L483.62 83.06Z" fill="#4dffaa"/>
<path d="M486.56 84.86L487.84 88.87L481.76 88.87L483.04 84.86Z" fill="#aaff4d"/>
<path d="M487.84 88.87L488.70 91.57L480.90 91.57L481.76 88.87Z" fill="#ffe600"/>
<path d="M488.70 91.57L488.99 92.47L480.61 92.47L480.90 91.57Z" fill="#ff7a00"/>
<path d="M484.80 79.35L484.66 79.62L484.53 79.49Z" fill="#000080"/>
<path d="M484.66 79.62L484.34 80.24L483.91 79.81L484.53 79.49Z" fill="#0000ff"/>
<path d="M484.34 80.24L484.07 80.77L483.38 80.08L483.91 79.81Z" fill="#0060ff"/>
<path d="M484.07 80.77L482.87 83.08L481.07 81.28L483.38 80.08Z" fill="#00d4ff"/>
<path d="M482.87 83.08L481.36 86.01L478.14 82.79L481.07 81.28Z" fill="#4dffaa"/>
<path d="M481.36 86.01L479.98 88.68L475.47 84.17L478.14 82.79Z" fill="#aaff4d"/>
<path d="M479.98 88.68L479.53 89.57L474.58 84.62L475.47 84.17Z" fill="#ffe600"/>
<path d="M484.80 79.35L484.40 79.48L484.40 79.22Z" fill="#000080"/>
<path d="M484.40 79.48L483.50 79.77L483.50 78.93L484.40 79.22Z" fill="#0000ff"/>
<path d="M483.50 79.77L481.79 80.31L481.79 78.39L483.50 78.93Z" fill="#0060ff"/>
<path d="M484.80 79.35L484.44 79.17L484.62 78.99Z" fill="#000080"/>
<path d="M484.44 79.17L483.73 78.80L484.25 78.28L484.62 78.99Z" fill="#0000ff"/>
<path d="M483.73 78.80L474.58 74.08L479.53 69.13L484.25 78.28Z" fill="#0060ff"/>
<path d="M474.58 74.08L471.65 72.56L478.01 66.20L479.53 69.13Z" fill="#00d4ff"/>
<line x1="484.80" y1="79.35" x2="482.82" y2="73.16" stroke="#fff" stroke-width="0.32" stroke-opacity="0.7"/>
<line x1="484.80" y1="79.35" x2="486.78" y2="73.16" stroke="#fff" stroke-width="0.32" stroke-opacity="0.7"/>
<line x1="484.80" y1="79.35" x2="487.78" y2="73.57" stroke="#fff" stroke-width="0.32" stroke-opacity="0.7"/>
<line x1="484.80" y1="79.35" x2="490.58" y2="76.37" stroke="#fff" stroke-width="0.32" stroke-opacity="0.7"/>
<line x1="484.80" y1="79.35" x2="490.99" y2="77.37" stroke="#fff" stroke-width="0.32" stroke-opacity="0.7"/>
<line x1="484.80" y1="79.35" x2="490.99" y2="81.33" stroke="#fff" stroke-width="0.32" stroke-opacity="0.7"/>
<line x1="484.80" y1="79.35" x2="489.47" y2="81.76" stroke="#fff" stroke-width="0.32" stroke-opacity="0.7"/>
<line x1="484.80" y1="79.35" x2="487.21" y2="84.02" stroke="#fff" stroke-width="0.32" stroke-opacity="0.7"/>
<line x1="484.80" y1="79.35" x2="486.78" y2="85.54" stroke="#fff" stroke-width="0.32" stroke-opacity="0.7"/>
<line x1="484.80" y1="79.35" x2="482.82" y2="85.54" stroke="#fff" stroke-width="0.32" stroke-opacity="0.7"/>
<line x1="484.80" y1="79.35" x2="481.82" y2="85.13" stroke="#fff" stroke-width="0.32" stroke-opacity="0.7"/>
<line x1="484.80" y1="79.35" x2="479.02" y2="82.33" stroke="#fff" stroke-width="0.32" stroke-opacity="0.7"/>
<line x1="484.80" y1="79.35" x2="481.79" y2="80.31" stroke="#fff" stroke-width="0.32" stroke-opacity="0.7"/>
<line x1="484.80" y1="79.35" x2="481.79" y2="78.39" stroke="#fff" stroke-width="0.32" stroke-opacity="0.7"/>
<line x1="484.80" y1="79.35" x2="479.02" y2="76.37" stroke="#fff" stroke-width="0.32" stroke-opacity="0.7"/>
<line x1="484.80" y1="79.35" x2="481.82" y2="73.57" stroke="#fff" stroke-width="0.32" stroke-opacity="0.7"/>
<circle cx="484.80" cy="79.35" r="1.1" fill="#fff" fill-opacity="0.45"/>
<circle cx="484.80" cy="79.35" r="11.62" fill="none" stroke="#d4d4d4" stroke-width="0.35"/>
<circle cx="484.80" cy="79.35" r="23.24" fill="none" stroke="#d4d4d4" stroke-width="0.35"/>
<circle cx="484.80" cy="79.35" r="34.86" fill="none" stroke="#d4d4d4" stroke-width="0.35"/>
<circle cx="484.80" cy="79.35" r="46.48" fill="none" stroke="#d4d4d4" stroke-width="0.35"/>
<line x1="484.80" y1="79.35" x2="484.80" y2="21.25" stroke="#d4d4d4" stroke-width="0.35"/>
<line x1="484.80" y1="79.35" x2="525.88" y2="38.27" stroke="#d4d4d4" stroke-width="0.35"/>
<line x1="484.80" y1="79.35" x2="542.90" y2="79.35" stroke="#d4d4d4" stroke-width="0.35"/>
<line x1="484.80" y1="79.35" x2="525.88" y2="120.43" stroke="#d4d4d4" stroke-width="0.35"/>
<line x1="484.80" y1="79.35" x2="484.80" y2="137.45" stroke="#d4d4d4" stroke-width="0.35"/>
<line x1="484.80" y1="79.35" x2="443.72" y2="120.43" stroke="#d4d4d4" stroke-width="0.35"/>
<line x1="484.80" y1="79.35" x2="426.70" y2="79.35" stroke="#d4d4d4" stroke-width="0.35"/>
<line x1="484.80" y1="79.35" x2="443.72" y2="38.27" stroke="#d4d4d4" stroke-width="0.35"/>
<circle cx="484.80" cy="79.35" r="58.10" fill="none" stroke="#2a2a2a" stroke-width="0.42"/>
<text x="484.80" y="18.00" font-size="2.9" text-anchor="middle" fill="#000" stroke="#000" stroke-width="0.09" transform="rotate(0.05 484.80 18.00)">N</text>
<text x="529.10" y="36.05" font-size="2.9" text-anchor="middle" fill="#000" stroke="#000" stroke-width="0.09" transform="rotate(0.05 529.10 36.05)">N-E</text>
<text x="547.10" y="80.40" font-size="2.9" text-anchor="middle" fill="#000" stroke="#000" stroke-width="0.09" transform="rotate(0.05 547.10 80.40)">E</text>
<text x="529.00" y="124.10" font-size="2.9" text-anchor="middle" fill="#000" stroke="#000" stroke-width="0.09" transform="rotate(0.05 529.00 124.10)">S-E</text>
<text x="484.80" y="142.75" font-size="2.9" text-anchor="middle" fill="#000" stroke="#000" stroke-width="0.09" transform="rotate(0.05 484.80 142.75)">S</text>
<text x="440.70" y="124.10" font-size="2.9" text-anchor="middle" fill="#000" stroke="#000" stroke-width="0.09" transform="rotate(0.05 440.70 124.10)">S-W</text>
<text x="421.90" y="80.40" font-size="2.9" text-anchor="middle" fill="#000" stroke="#000" stroke-width="0.09" transform="rotate(0.05 421.90 80.40)">W</text>
<text x="440.70" y="35.95" font-size="2.9" text-anchor="middle" fill="#000" stroke="#000" stroke-width="0.09" transform="rotate(0.05 440.70 35.95)">N-W</text>
<text x="492.95" y="68.21" font-size="2.9" text-anchor="middle" fill="#000" stroke="#000" stroke-width="0.05" transform="rotate(0.05 492.95 68.21)">10.0</text>
<text x="497.39" y="57.48" font-size="2.9" text-anchor="middle" fill="#000" stroke="#000" stroke-width="0.05" transform="rotate(0.05 497.39 57.48)">20.0</text>
<text x="501.84" y="46.74" font-size="2.9" text-anchor="middle" fill="#000" stroke="#000" stroke-width="0.05" transform="rotate(0.05 501.84 46.74)">30.0</text>
<text x="506.29" y="36.01" font-size="2.9" text-anchor="middle" fill="#000" stroke="#000" stroke-width="0.05" transform="rotate(0.05 506.29 36.01)">40.0</text>
<text x="510.73" y="25.27" font-size="2.9" text-anchor="middle" fill="#000" stroke="#000" stroke-width="0.05" transform="rotate(0.05 510.73 25.27)">50.0</text>
<rect x="423.45" y="55.45" width="33.9" height="47.4" rx="0.6" fill="#fff" fill-opacity="0.8" stroke="#d0d0d0" stroke-width="0.3"/>
<rect x="424.65" y="57.35" width="7.0" height="2.1" fill="#000080" stroke="#000" stroke-opacity="0.75" stroke-width="0.3"/>
<text x="434.05" y="59.59" font-size="3.2" font-weight="bold" fill="#000" stroke="#000" stroke-width="0.1" transform="rotate(0.05 434.05 59.59)">[0.0 : 5.0)</text>
<rect x="424.65" y="62.07" width="7.0" height="2.1" fill="#0000ff" stroke="#000" stroke-opacity="0.75" stroke-width="0.3"/>
<text x="434.05" y="64.31" font-size="3.2" font-weight="bold" fill="#000" stroke="#000" stroke-width="0.1" transform="rotate(0.05 434.05 64.31)">[5.0 : 10.0)</text>
<rect x="424.65" y="66.79" width="7.0" height="2.1" fill="#0060ff" stroke="#000" stroke-opacity="0.75" stroke-width="0.3"/>
<text x="434.05" y="69.03" font-size="3.2" font-weight="bold" fill="#000" stroke="#000" stroke-width="0.1" transform="rotate(0.05 434.05 69.03)">[10.0 : 15.0)</text>
<rect x="424.65" y="71.51" width="7.0" height="2.1" fill="#00d4ff" stroke="#000" stroke-opacity="0.75" stroke-width="0.3"/>
<text x="434.05" y="73.75" font-size="3.2" font-weight="bold" fill="#000" stroke="#000" stroke-width="0.1" transform="rotate(0.05 434.05 73.75)">[15.0 : 20.0)</text>
<rect x="424.65" y="76.23" width="7.0" height="2.1" fill="#4dffaa" stroke="#000" stroke-opacity="0.75" stroke-width="0.3"/>
<text x="434.05" y="78.47" font-size="3.2" font-weight="bold" fill="#000" stroke="#000" stroke-width="0.1" transform="rotate(0.05 434.05 78.47)">[20.0 : 25.0)</text>
<rect x="424.65" y="80.95" width="7.0" height="2.1" fill="#aaff4d" stroke="#000" stroke-opacity="0.75" stroke-width="0.3"/>
<text x="434.05" y="83.19" font-size="3.2" font-weight="bold" fill="#000" stroke="#000" stroke-width="0.1" transform="rotate(0.05 434.05 83.19)">[25.0 : 30.0)</text>
<rect x="424.65" y="85.67" width="7.0" height="2.1" fill="#ffe600" stroke="#000" stroke-opacity="0.75" stroke-width="0.3"/>
<text x="434.05" y="87.91" font-size="3.2" font-weight="bold" fill="#000" stroke="#000" stroke-width="0.1" transform="rotate(0.05 434.05 87.91)">[30.0 : 35.0)</text>
<rect x="424.65" y="90.39" width="7.0" height="2.1" fill="#ff7a00" stroke="#000" stroke-opacity="0.75" stroke-width="0.3"/>
<text x="434.05" y="92.63" font-size="3.2" font-weight="bold" fill="#000" stroke="#000" stroke-width="0.1" transform="rotate(0.05 434.05 92.63)">[35.0 : 40.0)</text>
<rect x="424.65" y="95.11" width="7.0" height="2.1" fill="#ff1300" stroke="#000" stroke-opacity="0.75" stroke-width="0.3"/>
<text x="434.05" y="97.35" font-size="3.2" font-weight="bold" fill="#000" stroke="#000" stroke-width="0.1" transform="rotate(0.05 434.05 97.35)">[40.0 : 45.0)</text>
<rect x="424.65" y="99.83" width="7.0" height="2.1" fill="#800000" stroke="#000" stroke-opacity="0.75" stroke-width="0.3"/>
<text x="434.05" y="102.07" font-size="3.2" font-weight="bold" fill="#000" stroke="#000" stroke-width="0.1" transform="rotate(0.05 434.05 102.07)">[45.0 : inf)</text>
</g>
<g>
<text x="67.30" y="156.60" font-size="5.15" text-anchor="middle" font-weight="bold" fill="#000" transform="rotate(0.05 67.30 156.60)">ATPM - Gust Speed</text>
<path d="M67.30 228.10L67.20 227.80L67.40 227.80Z" fill="#000080"/>
<path d="M67.20 227.80L67.01 227.20L67.59 227.20L67.40 227.80Z" fill="#0000ff"/>
<path d="M67.01 227.20L66.82 226.60L67.78 226.60L67.59 227.20Z" fill="#0060ff"/>
<path d="M66.82 226.60L65.45 222.29L69.15 222.29L67.78 226.60Z" fill="#00d4ff"/>
<path d="M65.45 222.29L64.29 218.68L70.31 218.68L69.15 222.29Z" fill="#4dffaa"/>
<path d="M64.29 218.68L62.66 213.57L71.94 213.57L70.31 218.68Z" fill="#aaff4d"/>
<path d="M62.66 213.57L61.51 209.97L73.09 209.97L71.94 213.57Z" fill="#ffe600"/>
<path d="M61.51 209.97L60.62 207.16L73.98 207.16L73.09 209.97Z" fill="#ff7a00"/>
<path d="M60.62 207.16L60.27 206.06L74.33 206.06L73.98 207.16Z" fill="#ff1300"/>
<path d="M67.30 228.10L67.44 227.83L67.57 227.96Z" fill="#000080"/>
<path d="M67.44 227.83L67.71 227.30L68.10 227.69L67.57 227.96Z" fill="#0000ff"/>
<path d="M67.71 227.30L67.99 226.77L68.63 227.41L68.10 227.69Z" fill="#0060ff"/>
<path d="M67.99 226.77L69.23 224.37L71.03 226.17L68.63 227.41Z" fill="#00d4ff"/>
<path d="M69.23 224.37L70.88 221.17L74.23 224.52L71.03 226.17Z" fill="#4dffaa"/>
<path d="M70.88 221.17L73.22 216.64L78.76 222.18L74.23 224.52Z" fill="#aaff4d"/>
<path d="M73.22 216.64L77.07 209.17L86.23 218.33L78.76 222.18Z" fill="#ffe600"/>
<path d="M77.07 209.17L79.78 203.93L91.47 215.62L86.23 218.33Z" fill="#ff7a00"/>
<path d="M79.78 203.93L80.78 201.97L93.43 214.62L91.47 215.62Z" fill="#ff1300"/>
<path d="M67.30 228.10L67.60 228.00L67.60 228.20Z" fill="#000080"/>
<path d="M67.60 228.00L68.20 227.81L68.20 228.39L67.60 228.20Z" fill="#0000ff"/>
<path d="M68.20 227.81L68.80 227.62L68.80 228.58L68.20 228.39Z" fill="#0060ff"/>
<path d="M68.80 227.62L71.51 226.76L71.51 229.44L68.80 228.58Z" fill="#00d4ff"/>
<path d="M71.51 226.76L72.21 226.53L72.21 229.67L71.51 229.44Z" fill="#4dffaa"/>
<path d="M67.30 228.10L67.58 228.24L67.44 228.38Z" fill="#000080"/>
<path d="M67.58 228.24L68.14 228.53L67.73 228.94L67.44 228.38Z" fill="#0000ff"/>
<path d="M68.14 228.53L68.70 228.82L68.02 229.50L67.73 228.94Z" fill="#0060ff"/>
<path d="M68.70 228.82L70.85 229.93L69.13 231.65L68.02 229.50Z" fill="#00d4ff"/>
<path d="M67.30 228.10L67.40 228.40L67.20 228.40Z" fill="#000080"/>
<path d="M67.40 228.40L67.59 229.00L67.01 229.00L67.20 228.40Z" fill="#0000ff"/>
<path d="M67.59 229.00L67.78 229.60L66.82 229.60L67.01 229.00Z" fill="#0060ff"/>
<path d="M67.78 229.60L68.42 231.61L66.18 231.61L66.82 229.60Z" fill="#00d4ff"/>
<path d="M68.42 231.61L68.83 232.91L65.77 232.91L66.18 231.61Z" fill="#4dffaa"/>
<path d="M68.83 232.91L69.67 235.51L64.93 235.51L65.77 232.91Z" fill="#aaff4d"/>
<path d="M69.67 235.51L70.21 237.22L64.39 237.22L64.93 235.51Z" fill="#ffe600"/>
<path d="M70.21 237.22L70.50 238.12L64.10 238.12L64.39 237.22Z" fill="#ff7a00"/>
<path d="M70.50 238.12L70.69 238.72L63.91 238.72L64.10 238.12Z" fill="#ff1300"/>
<path d="M70.69 238.72L70.98 239.62L63.62 239.62L63.91 238.72Z" fill="#800000"/>
<path d="M67.30 228.10L67.16 228.37L67.03 228.24Z" fill="#000080"/>
<path d="M67.16 228.37L66.89 228.90L66.50 228.51L67.03 228.24Z" fill="#0000ff"/>
<path d="M66.89 228.90L66.61 229.43L65.97 228.79L66.50 228.51Z" fill="#0060ff"/>
<path d="M66.61 229.43L65.47 231.65L63.75 229.93L65.97 228.79Z" fill="#00d4ff"/>
<path d="M65.47 231.65L64.32 233.88L61.52 231.08L63.75 229.93Z" fill="#4dffaa"/>
<path d="M64.32 233.88L62.94 236.54L58.86 232.46L61.52 231.08Z" fill="#aaff4d"/>
<path d="M62.94 236.54L61.66 239.03L56.37 233.74L58.86 232.46Z" fill="#ffe600"/>
<path d="M61.66 239.03L60.88 240.54L54.86 234.52L56.37 233.74Z" fill="#ff7a00"/>
<path d="M60.88 240.54L60.19 241.87L53.53 235.21L54.86 234.52Z" fill="#ff1300"/>
<path d="M60.19 241.87L59.37 243.47L51.93 236.03L53.53 235.21Z" fill="#800000"/>
<path d="M67.30 228.10L67.00 228.20L67.00 228.00Z" fill="#000080"/>
<path d="M67.00 228.20L66.40 228.39L66.40 227.81L67.00 228.00Z" fill="#0000ff"/>
<path d="M66.40 228.39L65.30 228.74L65.30 227.46L66.40 227.81Z" fill="#0060ff"/>
<path d="M65.30 228.74L62.59 229.60L62.59 226.60L65.30 227.46Z" fill="#00d4ff"/>
<path d="M67.30 228.10L66.94 227.92L67.12 227.74Z" fill="#000080"/>
<path d="M66.94 227.92L65.08 226.95L66.15 225.88L67.12 227.74Z" fill="#0000ff"/>
<path d="M65.08 226.95L60.19 224.43L63.63 220.99L66.15 225.88Z" fill="#0060ff"/>
<path d="M60.19 224.43L55.30 221.91L61.11 216.10L63.63 220.99Z" fill="#00d4ff"/>
<path d="M55.30 221.91L54.33 221.40L60.60 215.13L61.11 216.10Z" fill="#4dffaa"/>
<line x1="67.30" y1="228.10" x2="65.32" y2="221.91" stroke="#fff" stroke-width="0.32" stroke-opacity="0.7"/>
<line x1="67.30" y1="228.10" x2="69.28" y2="221.91" stroke="#fff" stroke-width="0.32" stroke-opacity="0.7"/>
<line x1="67.30" y1="228.10" x2="70.28" y2="222.32" stroke="#fff" stroke-width="0.32" stroke-opacity="0.7"/>
<line x1="67.30" y1="228.10" x2="73.08" y2="225.12" stroke="#fff" stroke-width="0.32" stroke-opacity="0.7"/>
<line x1="67.30" y1="228.10" x2="72.21" y2="226.53" stroke="#fff" stroke-width="0.32" stroke-opacity="0.7"/>
<line x1="67.30" y1="228.10" x2="72.21" y2="229.67" stroke="#fff" stroke-width="0.32" stroke-opacity="0.7"/>
<line x1="67.30" y1="228.10" x2="70.85" y2="229.93" stroke="#fff" stroke-width="0.32" stroke-opacity="0.7"/>
<line x1="67.30" y1="228.10" x2="69.13" y2="231.65" stroke="#fff" stroke-width="0.32" stroke-opacity="0.7"/>
<line x1="67.30" y1="228.10" x2="69.28" y2="234.29" stroke="#fff" stroke-width="0.32" stroke-opacity="0.7"/>
<line x1="67.30" y1="228.10" x2="65.32" y2="234.29" stroke="#fff" stroke-width="0.32" stroke-opacity="0.7"/>
<line x1="67.30" y1="228.10" x2="64.32" y2="233.88" stroke="#fff" stroke-width="0.32" stroke-opacity="0.7"/>
<line x1="67.30" y1="228.10" x2="61.52" y2="231.08" stroke="#fff" stroke-width="0.32" stroke-opacity="0.7"/>
<line x1="67.30" y1="228.10" x2="62.59" y2="229.60" stroke="#fff" stroke-width="0.32" stroke-opacity="0.7"/>
<line x1="67.30" y1="228.10" x2="62.59" y2="226.60" stroke="#fff" stroke-width="0.32" stroke-opacity="0.7"/>
<line x1="67.30" y1="228.10" x2="61.52" y2="225.12" stroke="#fff" stroke-width="0.32" stroke-opacity="0.7"/>
<line x1="67.30" y1="228.10" x2="64.32" y2="222.32" stroke="#fff" stroke-width="0.32" stroke-opacity="0.7"/>
<circle cx="67.30" cy="228.10" r="1.1" fill="#fff" fill-opacity="0.45"/>
<circle cx="67.30" cy="228.10" r="11.62" fill="none" stroke="#d4d4d4" stroke-width="0.35"/>
<circle cx="67.30" cy="228.10" r="23.24" fill="none" stroke="#d4d4d4" stroke-width="0.35"/>
<circle cx="67.30" cy="228.10" r="34.86" fill="none" stroke="#d4d4d4" stroke-width="0.35"/>
<circle cx="67.30" cy="228.10" r="46.48" fill="none" stroke="#d4d4d4" stroke-width="0.35"/>
<line x1="67.30" y1="228.10" x2="67.30" y2="170.00" stroke="#d4d4d4" stroke-width="0.35"/>
<line x1="67.30" y1="228.10" x2="108.38" y2="187.02" stroke="#d4d4d4" stroke-width="0.35"/>
<line x1="67.30" y1="228.10" x2="125.40" y2="228.10" stroke="#d4d4d4" stroke-width="0.35"/>
<line x1="67.30" y1="228.10" x2="108.38" y2="269.18" stroke="#d4d4d4" stroke-width="0.35"/>
<line x1="67.30" y1="228.10" x2="67.30" y2="286.20" stroke="#d4d4d4" stroke-width="0.35"/>
<line x1="67.30" y1="228.10" x2="26.22" y2="269.18" stroke="#d4d4d4" stroke-width="0.35"/>
<line x1="67.30" y1="228.10" x2="9.20" y2="228.10" stroke="#d4d4d4" stroke-width="0.35"/>
<line x1="67.30" y1="228.10" x2="26.22" y2="187.02" stroke="#d4d4d4" stroke-width="0.35"/>
<circle cx="67.30" cy="228.10" r="58.10" fill="none" stroke="#2a2a2a" stroke-width="0.42"/>
<text x="67.30" y="166.75" font-size="2.9" text-anchor="middle" fill="#000" stroke="#000" stroke-width="0.09" transform="rotate(0.05 67.30 166.75)">N</text>
<text x="111.60" y="184.80" font-size="2.9" text-anchor="middle" fill="#000" stroke="#000" stroke-width="0.09" transform="rotate(0.05 111.60 184.80)">N-E</text>
<text x="129.60" y="229.15" font-size="2.9" text-anchor="middle" fill="#000" stroke="#000" stroke-width="0.09" transform="rotate(0.05 129.60 229.15)">E</text>
<text x="111.50" y="272.85" font-size="2.9" text-anchor="middle" fill="#000" stroke="#000" stroke-width="0.09" transform="rotate(0.05 111.50 272.85)">S-E</text>
<text x="67.30" y="291.50" font-size="2.9" text-anchor="middle" fill="#000" stroke="#000" stroke-width="0.09" transform="rotate(0.05 67.30 291.50)">S</text>
<text x="23.20" y="272.85" font-size="2.9" text-anchor="middle" fill="#000" stroke="#000" stroke-width="0.09" transform="rotate(0.05 23.20 272.85)">S-W</text>
<text x="4.40" y="229.15" font-size="2.9" text-anchor="middle" fill="#000" stroke="#000" stroke-width="0.09" transform="rotate(0.05 4.40 229.15)">W</text>
<text x="23.20" y="184.70" font-size="2.9" text-anchor="middle" fill="#000" stroke="#000" stroke-width="0.09" transform="rotate(0.05 23.20 184.70)">N-W</text>
<text x="75.45" y="216.96" font-size="2.9" text-anchor="middle" fill="#000" stroke="#000" stroke-width="0.05" transform="rotate(0.05 75.45 216.96)">10.0</text>
<text x="79.89" y="206.23" font-size="2.9" text-anchor="middle" fill="#000" stroke="#000" stroke-width="0.05" transform="rotate(0.05 79.89 206.23)">20.0</text>
<text x="84.34" y="195.49" font-size="2.9" text-anchor="middle" fill="#000" stroke="#000" stroke-width="0.05" transform="rotate(0.05 84.34 195.49)">30.0</text>
<text x="88.79" y="184.76" font-size="2.9" text-anchor="middle" fill="#000" stroke="#000" stroke-width="0.05" transform="rotate(0.05 88.79 184.76)">40.0</text>
<text x="93.23" y="174.02" font-size="2.9" text-anchor="middle" fill="#000" stroke="#000" stroke-width="0.05" transform="rotate(0.05 93.23 174.02)">50.0</text>
<rect x="5.95" y="204.20" width="33.9" height="47.4" rx="0.6" fill="#fff" fill-opacity="0.8" stroke="#d0d0d0" stroke-width="0.3"/>
<rect x="7.15" y="206.10" width="7.0" height="2.1" fill="#000080" stroke="#000" stroke-opacity="0.75" stroke-width="0.3"/>
<text x="16.55" y="208.34" font-size="3.2" font-weight="bold" fill="#000" stroke="#000" stroke-width="0.1" transform="rotate(0.05 16.55 208.34)">[0.0 : 5.0)</text>
<rect x="7.15" y="210.82" width="7.0" height="2.1" fill="#0000ff" stroke="#000" stroke-opacity="0.75" stroke-width="0.3"/>
<text x="16.55" y="213.06" font-size="3.2" font-weight="bold" fill="#000" stroke="#000" stroke-width="0.1" transform="rotate(0.05 16.55 213.06)">[5.0 : 10.0)</text>
<rect x="7.15" y="215.54" width="7.0" height="2.1" fill="#0060ff" stroke="#000" stroke-opacity="0.75" stroke-width="0.3"/>
<text x="16.55" y="217.78" font-size="3.2" font-weight="bold" fill="#000" stroke="#000" stroke-width="0.1" transform="rotate(0.05 16.55 217.78)">[10.0 : 15.0)</text>
<rect x="7.15" y="220.26" width="7.0" height="2.1" fill="#00d4ff" stroke="#000" stroke-opacity="0.75" stroke-width="0.3"/>
<text x="16.55" y="222.50" font-size="3.2" font-weight="bold" fill="#000" stroke="#000" stroke-width="0.1" transform="rotate(0.05 16.55 222.50)">[15.0 : 20.0)</text>
<rect x="7.15" y="224.98" width="7.0" height="2.1" fill="#4dffaa" stroke="#000" stroke-opacity="0.75" stroke-width="0.3"/>
<text x="16.55" y="227.22" font-size="3.2" font-weight="bold" fill="#000" stroke="#000" stroke-width="0.1" transform="rotate(0.05 16.55 227.22)">[20.0 : 25.0)</text>
<rect x="7.15" y="229.70" width="7.0" height="2.1" fill="#aaff4d" stroke="#000" stroke-opacity="0.75" stroke-width="0.3"/>
<text x="16.55" y="231.94" font-size="3.2" font-weight="bold" fill="#000" stroke="#000" stroke-width="0.1" transform="rotate(0.05 16.55 231.94)">[25.0 : 30.0)</text>
<rect x="7.15" y="234.42" width="7.0" height="2.1" fill="#ffe600" stroke="#000" stroke-opacity="0.75" stroke-width="0.3"/>
<text x="16.55" y="236.66" font-size="3.2" font-weight="bold" fill="#000" stroke="#000" stroke-width="0.1" transform="rotate(0.05 16.55 236.66)">[30.0 : 35.0)</text>
<rect x="7.15" y="239.14" width="7.0" height="2.1" fill="#ff7a00" stroke="#000" stroke-opacity="0.75" stroke-width="0.3"/>
<text x="16.55" y="241.38" font-size="3.2" font-weight="bold" fill="#000" stroke="#000" stroke-width="0.1" transform="rotate(0.05 16.55 241.38)">[35.0 : 40.0)</text>
<rect x="7.15" y="243.86" width="7.0" height="2.1" fill="#ff1300" stroke="#000" stroke-opacity="0.75" stroke-width="0.3"/>
<text x="16.55" y="246.10" font-size="3.2" font-weight="bold" fill="#000" stroke="#000" stroke-width="0.1" transform="rotate(0.05 16.55 246.10)">[40.0 : 45.0)</text>
<rect x="7.15" y="248.58" width="7.0" height="2.1" fill="#800000" stroke="#000" stroke-opacity="0.75" stroke-width="0.3"/>
<text x="16.55" y="250.82" font-size="3.2" font-weight="bold" fill="#000" stroke="#000" stroke-width="0.1" transform="rotate(0.05 16.55 250.82)">[45.0 : inf)</text>
</g>
<g>
<text x="206.47" y="156.60" font-size="5.15" text-anchor="middle" font-weight="bold" fill="#000" transform="rotate(0.05 206.47 156.60)">WRF - 24 Hours Forecast</text>
<path d="M206.47 228.10L206.41 227.90L206.53 227.90Z" fill="#000080"/>
<path d="M206.41 227.90L206.28 227.50L206.66 227.50L206.53 227.90Z" fill="#0000ff"/>
<path d="M206.28 227.50L206.15 227.10L206.79 227.10L206.66 227.50Z" fill="#0060ff"/>
<path d="M206.15 227.10L205.96 226.50L206.98 226.50L206.79 227.10Z" fill="#00d4ff"/>
<path d="M205.96 226.50L205.26 224.29L207.68 224.29L206.98 226.50Z" fill="#4dffaa"/>
<path d="M205.26 224.29L203.75 219.59L209.19 219.59L207.68 224.29Z" fill="#aaff4d"/>
<path d="M203.75 219.59L202.06 214.28L210.88 214.28L209.19 219.59Z" fill="#ffe600"/>
<path d="M202.06 214.28L200.49 209.37L212.45 209.37L210.88 214.28Z" fill="#ff7a00"/>
<path d="M200.49 209.37L199.76 207.06L213.18 207.06L212.45 209.37Z" fill="#ff1300"/>
<path d="M199.76 207.06L199.37 205.86L213.57 205.86L213.18 207.06Z" fill="#800000"/>
<path d="M206.47 228.10L206.56 227.92L206.65 228.01Z" fill="#000080"/>
<path d="M206.56 227.92L206.75 227.57L207.00 227.82L206.65 228.01Z" fill="#0000ff"/>
<path d="M206.75 227.57L206.93 227.21L207.36 227.64L207.00 227.82Z" fill="#0060ff"/>
<path d="M206.93 227.21L207.30 226.50L208.07 227.27L207.36 227.64Z" fill="#00d4ff"/>
<path d="M207.30 226.50L208.53 224.10L210.47 226.04L208.07 227.27Z" fill="#4dffaa"/>
<path d="M208.53 224.10L210.09 221.08L213.49 224.48L210.47 226.04Z" fill="#aaff4d"/>
<path d="M210.09 221.08L212.89 215.66L218.91 221.68L213.49 224.48Z" fill="#ffe600"/>
<path d="M212.89 215.66L215.55 210.51L224.06 219.02L218.91 221.68Z" fill="#ff7a00"/>
<path d="M215.55 210.51L217.71 206.33L228.24 216.86L224.06 219.02Z" fill="#ff1300"/>
<path d="M217.71 206.33L220.09 201.71L232.86 214.48L228.24 216.86Z" fill="#800000"/>
<path d="M206.47 228.10L206.67 228.04L206.67 228.16Z" fill="#000080"/>
<path d="M206.67 228.04L207.07 227.91L207.07 228.29L206.67 228.16Z" fill="#0000ff"/>
<path d="M207.07 227.91L207.47 227.78L207.47 228.42L207.07 228.29Z" fill="#0060ff"/>
<path d="M207.47 227.78L208.27 227.52L208.27 228.68L207.47 228.42Z" fill="#00d4ff"/>
<path d="M208.27 227.52L210.68 226.76L210.68 229.44L208.27 228.68Z" fill="#4dffaa"/>
<path d="M210.68 226.76L212.78 226.09L212.78 230.11L210.68 229.44Z" fill="#aaff4d"/>
<path d="M206.47 228.10L206.66 228.20L206.57 228.29Z" fill="#000080"/>
<path d="M206.66 228.20L207.03 228.39L206.76 228.66L206.57 228.29Z" fill="#0000ff"/>
<path d="M207.03 228.39L207.40 228.58L206.95 229.03L206.76 228.66Z" fill="#0060ff"/>
<path d="M207.40 228.58L208.53 229.16L207.53 230.16L206.95 229.03Z" fill="#00d4ff"/>
<path d="M208.53 229.16L210.21 230.03L208.40 231.84L207.53 230.16Z" fill="#4dffaa"/>
<path d="M210.21 230.03L211.89 230.90L209.27 233.52L208.40 231.84Z" fill="#aaff4d"/>
<path d="M206.47 228.10L206.53 228.30L206.41 228.30Z" fill="#000080"/>
<path d="M206.53 228.30L206.66 228.70L206.28 228.70L206.41 228.30Z" fill="#0000ff"/>
<path d="M206.66 228.70L206.79 229.10L206.15 229.10L206.28 228.70Z" fill="#0060ff"/>
<path d="M206.79 229.10L207.30 230.70L205.64 230.70L206.15 229.10Z" fill="#00d4ff"/>
<path d="M207.30 230.70L207.75 232.11L205.19 232.11L205.64 230.70Z" fill="#4dffaa"/>
<path d="M207.75 232.11L208.90 235.71L204.04 235.71L205.19 232.11Z" fill="#aaff4d"/>
<path d="M208.90 235.71L209.79 238.52L203.15 238.52L204.04 235.71Z" fill="#ffe600"/>
<path d="M209.79 238.52L210.53 240.82L202.41 240.82L203.15 238.52Z" fill="#ff7a00"/>
<path d="M210.53 240.82L211.01 242.32L201.93 242.32L202.41 240.82Z" fill="#ff1300"/>
<path d="M206.47 228.10L206.38 228.28L206.29 228.19Z" fill="#000080"/>
<path d="M206.38 228.28L206.19 228.63L205.94 228.38L206.29 228.19Z" fill="#0000ff"/>
<path d="M206.19 228.63L206.01 228.99L205.58 228.56L205.94 228.38Z" fill="#0060ff"/>
<path d="M206.01 228.99L205.00 230.94L203.63 229.57L205.58 228.56Z" fill="#00d4ff"/>
<path d="M205.00 230.94L203.95 232.99L201.58 230.62L203.63 229.57Z" fill="#4dffaa"/>
<path d="M203.95 232.99L202.80 235.21L199.36 231.77L201.58 230.62Z" fill="#aaff4d"/>
<path d="M202.80 235.21L201.75 237.25L197.32 232.82L199.36 231.77Z" fill="#ffe600"/>
<path d="M201.75 237.25L201.06 238.59L195.98 233.51L197.32 232.82Z" fill="#ff7a00"/>
<path d="M201.06 238.59L200.51 239.65L194.92 234.06L195.98 233.51Z" fill="#ff1300"/>
<path d="M206.47 228.10L205.97 228.26L205.97 227.94Z" fill="#000080"/>
<path d="M205.97 228.26L204.47 228.74L204.47 227.46L205.97 227.94Z" fill="#0000ff"/>
<path d="M204.47 228.74L203.06 229.19L203.06 227.01L204.47 227.46Z" fill="#0060ff"/>
<path d="M206.47 228.10L206.11 227.92L206.29 227.74Z" fill="#000080"/>
<path d="M206.11 227.92L205.40 227.55L205.92 227.03L206.29 227.74Z" fill="#0000ff"/>
<path d="M205.40 227.55L200.25 224.89L203.26 221.88L205.92 227.03Z" fill="#0060ff"/>
<path d="M200.25 224.89L196.70 223.05L201.42 218.33L203.26 221.88Z" fill="#00d4ff"/>
<path d="M196.70 223.05L194.92 222.14L200.51 216.55L201.42 218.33Z" fill="#4dffaa"/>
<path d="M194.92 222.14L194.21 221.77L200.14 215.84L200.51 216.55Z" fill="#aaff4d"/>
<line x1="206.47" y1="228.10" x2="204.49" y2="221.91" stroke="#fff" stroke-width="0.32" stroke-opacity="0.7"/>
<line x1="206.47" y1="228.10" x2="208.45" y2="221.91" stroke="#fff" stroke-width="0.32" stroke-opacity="0.7"/>
<line x1="206.47" y1="228.10" x2="209.45" y2="222.32" stroke="#fff" stroke-width="0.32" stroke-opacity="0.7"/>
<line x1="206.47" y1="228.10" x2="212.25" y2="225.12" stroke="#fff" stroke-width="0.32" stroke-opacity="0.7"/>
<line x1="206.47" y1="228.10" x2="212.66" y2="226.12" stroke="#fff" stroke-width="0.32" stroke-opacity="0.7"/>
<line x1="206.47" y1="228.10" x2="212.66" y2="230.08" stroke="#fff" stroke-width="0.32" stroke-opacity="0.7"/>
<line x1="206.47" y1="228.10" x2="211.89" y2="230.90" stroke="#fff" stroke-width="0.32" stroke-opacity="0.7"/>
<line x1="206.47" y1="228.10" x2="209.27" y2="233.52" stroke="#fff" stroke-width="0.32" stroke-opacity="0.7"/>
<line x1="206.47" y1="228.10" x2="208.45" y2="234.29" stroke="#fff" stroke-width="0.32" stroke-opacity="0.7"/>
<line x1="206.47" y1="228.10" x2="204.49" y2="234.29" stroke="#fff" stroke-width="0.32" stroke-opacity="0.7"/>
<line x1="206.47" y1="228.10" x2="203.49" y2="233.88" stroke="#fff" stroke-width="0.32" stroke-opacity="0.7"/>
<line x1="206.47" y1="228.10" x2="200.69" y2="231.08" stroke="#fff" stroke-width="0.32" stroke-opacity="0.7"/>
<line x1="206.47" y1="228.10" x2="203.06" y2="229.19" stroke="#fff" stroke-width="0.32" stroke-opacity="0.7"/>
<line x1="206.47" y1="228.10" x2="203.06" y2="227.01" stroke="#fff" stroke-width="0.32" stroke-opacity="0.7"/>
<line x1="206.47" y1="228.10" x2="200.69" y2="225.12" stroke="#fff" stroke-width="0.32" stroke-opacity="0.7"/>
<line x1="206.47" y1="228.10" x2="203.49" y2="222.32" stroke="#fff" stroke-width="0.32" stroke-opacity="0.7"/>
<circle cx="206.47" cy="228.10" r="1.1" fill="#fff" fill-opacity="0.45"/>
<circle cx="206.47" cy="228.10" r="11.62" fill="none" stroke="#d4d4d4" stroke-width="0.35"/>
<circle cx="206.47" cy="228.10" r="23.24" fill="none" stroke="#d4d4d4" stroke-width="0.35"/>
<circle cx="206.47" cy="228.10" r="34.86" fill="none" stroke="#d4d4d4" stroke-width="0.35"/>
<circle cx="206.47" cy="228.10" r="46.48" fill="none" stroke="#d4d4d4" stroke-width="0.35"/>
<line x1="206.47" y1="228.10" x2="206.47" y2="170.00" stroke="#d4d4d4" stroke-width="0.35"/>
<line x1="206.47" y1="228.10" x2="247.55" y2="187.02" stroke="#d4d4d4" stroke-width="0.35"/>
<line x1="206.47" y1="228.10" x2="264.57" y2="228.10" stroke="#d4d4d4" stroke-width="0.35"/>
<line x1="206.47" y1="228.10" x2="247.55" y2="269.18" stroke="#d4d4d4" stroke-width="0.35"/>
<line x1="206.47" y1="228.10" x2="206.47" y2="286.20" stroke="#d4d4d4" stroke-width="0.35"/>
<line x1="206.47" y1="228.10" x2="165.39" y2="269.18" stroke="#d4d4d4" stroke-width="0.35"/>
<line x1="206.47" y1="228.10" x2="148.37" y2="228.10" stroke="#d4d4d4" stroke-width="0.35"/>
<line x1="206.47" y1="228.10" x2="165.39" y2="187.02" stroke="#d4d4d4" stroke-width="0.35"/>
<circle cx="206.47" cy="228.10" r="58.10" fill="none" stroke="#2a2a2a" stroke-width="0.42"/>
<text x="206.47" y="166.75" font-size="2.9" text-anchor="middle" fill="#000" stroke="#000" stroke-width="0.09" transform="rotate(0.05 206.47 166.75)">N</text>
<text x="250.77" y="184.80" font-size="2.9" text-anchor="middle" fill="#000" stroke="#000" stroke-width="0.09" transform="rotate(0.05 250.77 184.80)">N-E</text>
<text x="268.77" y="229.15" font-size="2.9" text-anchor="middle" fill="#000" stroke="#000" stroke-width="0.09" transform="rotate(0.05 268.77 229.15)">E</text>
<text x="250.67" y="272.85" font-size="2.9" text-anchor="middle" fill="#000" stroke="#000" stroke-width="0.09" transform="rotate(0.05 250.67 272.85)">S-E</text>
<text x="206.47" y="291.50" font-size="2.9" text-anchor="middle" fill="#000" stroke="#000" stroke-width="0.09" transform="rotate(0.05 206.47 291.50)">S</text>
<text x="162.37" y="272.85" font-size="2.9" text-anchor="middle" fill="#000" stroke="#000" stroke-width="0.09" transform="rotate(0.05 162.37 272.85)">S-W</text>
<text x="143.57" y="229.15" font-size="2.9" text-anchor="middle" fill="#000" stroke="#000" stroke-width="0.09" transform="rotate(0.05 143.57 229.15)">W</text>
<text x="162.37" y="184.70" font-size="2.9" text-anchor="middle" fill="#000" stroke="#000" stroke-width="0.09" transform="rotate(0.05 162.37 184.70)">N-W</text>
<text x="214.62" y="216.96" font-size="2.9" text-anchor="middle" fill="#000" stroke="#000" stroke-width="0.05" transform="rotate(0.05 214.62 216.96)">10.0</text>
<text x="219.06" y="206.23" font-size="2.9" text-anchor="middle" fill="#000" stroke="#000" stroke-width="0.05" transform="rotate(0.05 219.06 206.23)">20.0</text>
<text x="223.51" y="195.49" font-size="2.9" text-anchor="middle" fill="#000" stroke="#000" stroke-width="0.05" transform="rotate(0.05 223.51 195.49)">30.0</text>
<text x="227.96" y="184.76" font-size="2.9" text-anchor="middle" fill="#000" stroke="#000" stroke-width="0.05" transform="rotate(0.05 227.96 184.76)">40.0</text>
<text x="232.40" y="174.02" font-size="2.9" text-anchor="middle" fill="#000" stroke="#000" stroke-width="0.05" transform="rotate(0.05 232.40 174.02)">50.0</text>
<rect x="145.12" y="204.20" width="33.9" height="47.4" rx="0.6" fill="#fff" fill-opacity="0.8" stroke="#d0d0d0" stroke-width="0.3"/>
<rect x="146.32" y="206.10" width="7.0" height="2.1" fill="#000080" stroke="#000" stroke-opacity="0.75" stroke-width="0.3"/>
<text x="155.72" y="208.34" font-size="3.2" font-weight="bold" fill="#000" stroke="#000" stroke-width="0.1" transform="rotate(0.05 155.72 208.34)">[0.0 : 5.0)</text>
<rect x="146.32" y="210.82" width="7.0" height="2.1" fill="#0000ff" stroke="#000" stroke-opacity="0.75" stroke-width="0.3"/>
<text x="155.72" y="213.06" font-size="3.2" font-weight="bold" fill="#000" stroke="#000" stroke-width="0.1" transform="rotate(0.05 155.72 213.06)">[5.0 : 10.0)</text>
<rect x="146.32" y="215.54" width="7.0" height="2.1" fill="#0060ff" stroke="#000" stroke-opacity="0.75" stroke-width="0.3"/>
<text x="155.72" y="217.78" font-size="3.2" font-weight="bold" fill="#000" stroke="#000" stroke-width="0.1" transform="rotate(0.05 155.72 217.78)">[10.0 : 15.0)</text>
<rect x="146.32" y="220.26" width="7.0" height="2.1" fill="#00d4ff" stroke="#000" stroke-opacity="0.75" stroke-width="0.3"/>
<text x="155.72" y="222.50" font-size="3.2" font-weight="bold" fill="#000" stroke="#000" stroke-width="0.1" transform="rotate(0.05 155.72 222.50)">[15.0 : 20.0)</text>
<rect x="146.32" y="224.98" width="7.0" height="2.1" fill="#4dffaa" stroke="#000" stroke-opacity="0.75" stroke-width="0.3"/>
<text x="155.72" y="227.22" font-size="3.2" font-weight="bold" fill="#000" stroke="#000" stroke-width="0.1" transform="rotate(0.05 155.72 227.22)">[20.0 : 25.0)</text>
<rect x="146.32" y="229.70" width="7.0" height="2.1" fill="#aaff4d" stroke="#000" stroke-opacity="0.75" stroke-width="0.3"/>
<text x="155.72" y="231.94" font-size="3.2" font-weight="bold" fill="#000" stroke="#000" stroke-width="0.1" transform="rotate(0.05 155.72 231.94)">[25.0 : 30.0)</text>
<rect x="146.32" y="234.42" width="7.0" height="2.1" fill="#ffe600" stroke="#000" stroke-opacity="0.75" stroke-width="0.3"/>
<text x="155.72" y="236.66" font-size="3.2" font-weight="bold" fill="#000" stroke="#000" stroke-width="0.1" transform="rotate(0.05 155.72 236.66)">[30.0 : 35.0)</text>
<rect x="146.32" y="239.14" width="7.0" height="2.1" fill="#ff7a00" stroke="#000" stroke-opacity="0.75" stroke-width="0.3"/>
<text x="155.72" y="241.38" font-size="3.2" font-weight="bold" fill="#000" stroke="#000" stroke-width="0.1" transform="rotate(0.05 155.72 241.38)">[35.0 : 40.0)</text>
<rect x="146.32" y="243.86" width="7.0" height="2.1" fill="#ff1300" stroke="#000" stroke-opacity="0.75" stroke-width="0.3"/>
<text x="155.72" y="246.10" font-size="3.2" font-weight="bold" fill="#000" stroke="#000" stroke-width="0.1" transform="rotate(0.05 155.72 246.10)">[40.0 : 45.0)</text>
<rect x="146.32" y="248.58" width="7.0" height="2.1" fill="#800000" stroke="#000" stroke-opacity="0.75" stroke-width="0.3"/>
<text x="155.72" y="250.82" font-size="3.2" font-weight="bold" fill="#000" stroke="#000" stroke-width="0.1" transform="rotate(0.05 155.72 250.82)">[45.0 : inf)</text>
</g>
<g>
<text x="345.63" y="156.60" font-size="5.15" text-anchor="middle" font-weight="bold" fill="#000" transform="rotate(0.05 345.63 156.60)">WRF - 48 Hours Forecast</text>
<path d="M345.63 228.10L345.57 227.90L345.69 227.90Z" fill="#000080"/>
<path d="M345.57 227.90L345.44 227.50L345.82 227.50L345.69 227.90Z" fill="#0000ff"/>
<path d="M345.44 227.50L345.31 227.10L345.95 227.10L345.82 227.50Z" fill="#0060ff"/>
<path d="M345.31 227.10L345.12 226.50L346.14 226.50L345.95 227.10Z" fill="#00d4ff"/>
<path d="M345.12 226.50L344.64 224.99L346.62 224.99L346.14 226.50Z" fill="#4dffaa"/>
<path d="M344.64 224.99L343.17 220.39L348.09 220.39L346.62 224.99Z" fill="#aaff4d"/>
<path d="M343.17 220.39L341.41 214.88L349.85 214.88L348.09 220.39Z" fill="#ffe600"/>
<path d="M341.41 214.88L339.36 208.47L351.90 208.47L349.85 214.88Z" fill="#ff7a00"/>
<path d="M339.36 208.47L338.44 205.56L352.82 205.56L351.90 208.47Z" fill="#ff1300"/>
<path d="M338.44 205.56L337.89 203.86L353.37 203.86L352.82 205.56Z" fill="#800000"/>
<path d="M345.63 228.10L345.72 227.92L345.81 228.01Z" fill="#000080"/>
<path d="M345.72 227.92L345.91 227.57L346.16 227.82L345.81 228.01Z" fill="#0000ff"/>
<path d="M345.91 227.57L346.09 227.21L346.52 227.64L346.16 227.82Z" fill="#0060ff"/>
<path d="M346.09 227.21L346.46 226.50L347.23 227.27L346.52 227.64Z" fill="#00d4ff"/>
<path d="M346.46 226.50L347.56 224.37L349.36 226.17L347.23 227.27Z" fill="#4dffaa"/>
<path d="M347.56 224.37L348.98 221.61L352.12 224.75L349.36 226.17Z" fill="#aaff4d"/>
<path d="M348.98 221.61L351.73 216.28L357.45 222.00L352.12 224.75Z" fill="#ffe600"/>
<path d="M351.73 216.28L354.25 211.39L362.34 219.48L357.45 222.00Z" fill="#ff7a00"/>
<path d="M354.25 211.39L356.09 207.84L365.89 217.64L362.34 219.48Z" fill="#ff1300"/>
<path d="M356.09 207.84L358.75 202.69L371.04 214.98L365.89 217.64Z" fill="#800000"/>
<path d="M345.63 228.10L345.83 228.04L345.83 228.16Z" fill="#000080"/>
<path d="M345.83 228.04L346.23 227.91L346.23 228.29L345.83 228.16Z" fill="#0000ff"/>
<path d="M346.23 227.91L346.63 227.78L346.63 228.42L346.23 228.29Z" fill="#0060ff"/>
<path d="M346.63 227.78L347.43 227.52L347.43 228.68L346.63 228.42Z" fill="#00d4ff"/>
<path d="M347.43 227.52L349.84 226.76L349.84 229.44L347.43 228.68Z" fill="#4dffaa"/>
<path d="M349.84 226.76L351.94 226.09L351.94 230.11L349.84 229.44Z" fill="#aaff4d"/>
<path d="M345.63 228.10L345.82 228.20L345.73 228.29Z" fill="#000080"/>
<path d="M345.82 228.20L346.19 228.39L345.92 228.66L345.73 228.29Z" fill="#0000ff"/>
<path d="M346.19 228.39L346.56 228.58L346.11 229.03L345.92 228.66Z" fill="#0060ff"/>
<path d="M346.56 228.58L347.69 229.16L346.69 230.16L346.11 229.03Z" fill="#00d4ff"/>
<path d="M347.69 229.16L348.99 229.84L347.37 231.46L346.69 230.16Z" fill="#4dffaa"/>
<path d="M348.99 229.84L349.83 230.27L347.80 232.30L347.37 231.46Z" fill="#aaff4d"/>
<path d="M345.63 228.10L345.69 228.30L345.57 228.30Z" fill="#000080"/>
<path d="M345.69 228.30L345.82 228.70L345.44 228.70L345.57 228.30Z" fill="#0000ff"/>
<path d="M345.82 228.70L345.95 229.10L345.31 229.10L345.44 228.70Z" fill="#0060ff"/>
<path d="M345.95 229.10L346.37 230.40L344.89 230.40L345.31 229.10Z" fill="#00d4ff"/>
<path d="M346.37 230.40L346.65 231.31L344.61 231.31L344.89 230.40Z" fill="#4dffaa"/>
<path d="M346.65 231.31L348.28 236.41L342.98 236.41L344.61 231.31Z" fill="#aaff4d"/>
<path d="M348.28 236.41L349.15 239.12L342.11 239.12L342.98 236.41Z" fill="#ffe600"/>
<path d="M349.15 239.12L349.66 240.72L341.60 240.72L342.11 239.12Z" fill="#ff7a00"/>
<path d="M349.66 240.72L349.91 241.52L341.35 241.52L341.60 240.72Z" fill="#ff1300"/>
<path d="M345.63 228.10L345.54 228.28L345.45 228.19Z" fill="#000080"/>
<path d="M345.54 228.28L345.35 228.63L345.10 228.38L345.45 228.19Z" fill="#0000ff"/>
<path d="M345.35 228.63L345.17 228.99L344.74 228.56L345.10 228.38Z" fill="#0060ff"/>
<path d="M345.17 228.99L344.25 230.77L342.96 229.48L344.74 228.56Z" fill="#00d4ff"/>
<path d="M344.25 230.77L343.34 232.54L341.19 230.39L342.96 229.48Z" fill="#4dffaa"/>
<path d="M343.34 232.54L342.05 235.03L338.70 231.68L341.19 230.39Z" fill="#aaff4d"/>
<path d="M342.05 235.03L340.72 237.61L336.12 233.01L338.70 231.68Z" fill="#ffe600"/>
<path d="M340.72 237.61L339.94 239.12L334.61 233.79L336.12 233.01Z" fill="#ff7a00"/>
<path d="M339.94 239.12L339.62 239.74L333.99 234.11L334.61 233.79Z" fill="#ff1300"/>
<path d="M345.63 228.10L345.13 228.26L345.13 227.94Z" fill="#000080"/>
<path d="M345.13 228.26L343.63 228.74L343.63 227.46L345.13 227.94Z" fill="#0000ff"/>
<path d="M343.63 228.74L342.62 229.06L342.62 227.14L343.63 227.46Z" fill="#0060ff"/>
<path d="M345.63 228.10L345.27 227.92L345.45 227.74Z" fill="#000080"/>
<path d="M345.27 227.92L344.56 227.55L345.08 227.03L345.45 227.74Z" fill="#0000ff"/>
<path d="M344.56 227.55L339.41 224.89L342.42 221.88L345.08 227.03Z" fill="#0060ff"/>
<path d="M339.41 224.89L336.30 223.28L340.81 218.77L342.42 221.88Z" fill="#00d4ff"/>
<path d="M336.30 223.28L334.52 222.37L339.90 216.99L340.81 218.77Z" fill="#4dffaa"/>
<path d="M334.52 222.37L333.19 221.68L339.21 215.66L339.90 216.99Z" fill="#aaff4d"/>
<path d="M333.19 221.68L332.48 221.31L338.84 214.95L339.21 215.66Z" fill="#ffe600"/>
<line x1="345.63" y1="228.10" x2="343.65" y2="221.91" stroke="#fff" stroke-width="0.32" stroke-opacity="0.7"/>
<line x1="345.63" y1="228.10" x2="347.61" y2="221.91" stroke="#fff" stroke-width="0.32" stroke-opacity="0.7"/>
<line x1="345.63" y1="228.10" x2="348.61" y2="222.32" stroke="#fff" stroke-width="0.32" stroke-opacity="0.7"/>
<line x1="345.63" y1="228.10" x2="351.41" y2="225.12" stroke="#fff" stroke-width="0.32" stroke-opacity="0.7"/>
<line x1="345.63" y1="228.10" x2="351.82" y2="226.12" stroke="#fff" stroke-width="0.32" stroke-opacity="0.7"/>
<line x1="345.63" y1="228.10" x2="351.82" y2="230.08" stroke="#fff" stroke-width="0.32" stroke-opacity="0.7"/>
<line x1="345.63" y1="228.10" x2="349.83" y2="230.27" stroke="#fff" stroke-width="0.32" stroke-opacity="0.7"/>
<line x1="345.63" y1="228.10" x2="347.80" y2="232.30" stroke="#fff" stroke-width="0.32" stroke-opacity="0.7"/>
<line x1="345.63" y1="228.10" x2="347.61" y2="234.29" stroke="#fff" stroke-width="0.32" stroke-opacity="0.7"/>
<line x1="345.63" y1="228.10" x2="343.65" y2="234.29" stroke="#fff" stroke-width="0.32" stroke-opacity="0.7"/>
<line x1="345.63" y1="228.10" x2="342.65" y2="233.88" stroke="#fff" stroke-width="0.32" stroke-opacity="0.7"/>
<line x1="345.63" y1="228.10" x2="339.85" y2="231.08" stroke="#fff" stroke-width="0.32" stroke-opacity="0.7"/>
<line x1="345.63" y1="228.10" x2="342.62" y2="229.06" stroke="#fff" stroke-width="0.32" stroke-opacity="0.7"/>
<line x1="345.63" y1="228.10" x2="342.62" y2="227.14" stroke="#fff" stroke-width="0.32" stroke-opacity="0.7"/>
<line x1="345.63" y1="228.10" x2="339.85" y2="225.12" stroke="#fff" stroke-width="0.32" stroke-opacity="0.7"/>
<line x1="345.63" y1="228.10" x2="342.65" y2="222.32" stroke="#fff" stroke-width="0.32" stroke-opacity="0.7"/>
<circle cx="345.63" cy="228.10" r="1.1" fill="#fff" fill-opacity="0.45"/>
<circle cx="345.63" cy="228.10" r="11.62" fill="none" stroke="#d4d4d4" stroke-width="0.35"/>
<circle cx="345.63" cy="228.10" r="23.24" fill="none" stroke="#d4d4d4" stroke-width="0.35"/>
<circle cx="345.63" cy="228.10" r="34.86" fill="none" stroke="#d4d4d4" stroke-width="0.35"/>
<circle cx="345.63" cy="228.10" r="46.48" fill="none" stroke="#d4d4d4" stroke-width="0.35"/>
<line x1="345.63" y1="228.10" x2="345.63" y2="170.00" stroke="#d4d4d4" stroke-width="0.35"/>
<line x1="345.63" y1="228.10" x2="386.71" y2="187.02" stroke="#d4d4d4" stroke-width="0.35"/>
<line x1="345.63" y1="228.10" x2="403.73" y2="228.10" stroke="#d4d4d4" stroke-width="0.35"/>
<line x1="345.63" y1="228.10" x2="386.71" y2="269.18" stroke="#d4d4d4" stroke-width="0.35"/>
<line x1="345.63" y1="228.10" x2="345.63" y2="286.20" stroke="#d4d4d4" stroke-width="0.35"/>
<line x1="345.63" y1="228.10" x2="304.55" y2="269.18" stroke="#d4d4d4" stroke-width="0.35"/>
<line x1="345.63" y1="228.10" x2="287.53" y2="228.10" stroke="#d4d4d4" stroke-width="0.35"/>
<line x1="345.63" y1="228.10" x2="304.55" y2="187.02" stroke="#d4d4d4" stroke-width="0.35"/>
<circle cx="345.63" cy="228.10" r="58.10" fill="none" stroke="#2a2a2a" stroke-width="0.42"/>
<text x="345.63" y="166.75" font-size="2.9" text-anchor="middle" fill="#000" stroke="#000" stroke-width="0.09" transform="rotate(0.05 345.63 166.75)">N</text>
<text x="389.93" y="184.80" font-size="2.9" text-anchor="middle" fill="#000" stroke="#000" stroke-width="0.09" transform="rotate(0.05 389.93 184.80)">N-E</text>
<text x="407.93" y="229.15" font-size="2.9" text-anchor="middle" fill="#000" stroke="#000" stroke-width="0.09" transform="rotate(0.05 407.93 229.15)">E</text>
<text x="389.83" y="272.85" font-size="2.9" text-anchor="middle" fill="#000" stroke="#000" stroke-width="0.09" transform="rotate(0.05 389.83 272.85)">S-E</text>
<text x="345.63" y="291.50" font-size="2.9" text-anchor="middle" fill="#000" stroke="#000" stroke-width="0.09" transform="rotate(0.05 345.63 291.50)">S</text>
<text x="301.53" y="272.85" font-size="2.9" text-anchor="middle" fill="#000" stroke="#000" stroke-width="0.09" transform="rotate(0.05 301.53 272.85)">S-W</text>
<text x="282.73" y="229.15" font-size="2.9" text-anchor="middle" fill="#000" stroke="#000" stroke-width="0.09" transform="rotate(0.05 282.73 229.15)">W</text>
<text x="301.53" y="184.70" font-size="2.9" text-anchor="middle" fill="#000" stroke="#000" stroke-width="0.09" transform="rotate(0.05 301.53 184.70)">N-W</text>
<text x="353.78" y="216.96" font-size="2.9" text-anchor="middle" fill="#000" stroke="#000" stroke-width="0.05" transform="rotate(0.05 353.78 216.96)">10.0</text>
<text x="358.22" y="206.23" font-size="2.9" text-anchor="middle" fill="#000" stroke="#000" stroke-width="0.05" transform="rotate(0.05 358.22 206.23)">20.0</text>
<text x="362.67" y="195.49" font-size="2.9" text-anchor="middle" fill="#000" stroke="#000" stroke-width="0.05" transform="rotate(0.05 362.67 195.49)">30.0</text>
<text x="367.12" y="184.76" font-size="2.9" text-anchor="middle" fill="#000" stroke="#000" stroke-width="0.05" transform="rotate(0.05 367.12 184.76)">40.0</text>
<text x="371.56" y="174.02" font-size="2.9" text-anchor="middle" fill="#000" stroke="#000" stroke-width="0.05" transform="rotate(0.05 371.56 174.02)">50.0</text>
<rect x="284.28" y="204.20" width="33.9" height="47.4" rx="0.6" fill="#fff" fill-opacity="0.8" stroke="#d0d0d0" stroke-width="0.3"/>
<rect x="285.48" y="206.10" width="7.0" height="2.1" fill="#000080" stroke="#000" stroke-opacity="0.75" stroke-width="0.3"/>
<text x="294.88" y="208.34" font-size="3.2" font-weight="bold" fill="#000" stroke="#000" stroke-width="0.1" transform="rotate(0.05 294.88 208.34)">[0.0 : 5.0)</text>
<rect x="285.48" y="210.82" width="7.0" height="2.1" fill="#0000ff" stroke="#000" stroke-opacity="0.75" stroke-width="0.3"/>
<text x="294.88" y="213.06" font-size="3.2" font-weight="bold" fill="#000" stroke="#000" stroke-width="0.1" transform="rotate(0.05 294.88 213.06)">[5.0 : 10.0)</text>
<rect x="285.48" y="215.54" width="7.0" height="2.1" fill="#0060ff" stroke="#000" stroke-opacity="0.75" stroke-width="0.3"/>
<text x="294.88" y="217.78" font-size="3.2" font-weight="bold" fill="#000" stroke="#000" stroke-width="0.1" transform="rotate(0.05 294.88 217.78)">[10.0 : 15.0)</text>
<rect x="285.48" y="220.26" width="7.0" height="2.1" fill="#00d4ff" stroke="#000" stroke-opacity="0.75" stroke-width="0.3"/>
<text x="294.88" y="222.50" font-size="3.2" font-weight="bold" fill="#000" stroke="#000" stroke-width="0.1" transform="rotate(0.05 294.88 222.50)">[15.0 : 20.0)</text>
<rect x="285.48" y="224.98" width="7.0" height="2.1" fill="#4dffaa" stroke="#000" stroke-opacity="0.75" stroke-width="0.3"/>
<text x="294.88" y="227.22" font-size="3.2" font-weight="bold" fill="#000" stroke="#000" stroke-width="0.1" transform="rotate(0.05 294.88 227.22)">[20.0 : 25.0)</text>
<rect x="285.48" y="229.70" width="7.0" height="2.1" fill="#aaff4d" stroke="#000" stroke-opacity="0.75" stroke-width="0.3"/>
<text x="294.88" y="231.94" font-size="3.2" font-weight="bold" fill="#000" stroke="#000" stroke-width="0.1" transform="rotate(0.05 294.88 231.94)">[25.0 : 30.0)</text>
<rect x="285.48" y="234.42" width="7.0" height="2.1" fill="#ffe600" stroke="#000" stroke-opacity="0.75" stroke-width="0.3"/>
<text x="294.88" y="236.66" font-size="3.2" font-weight="bold" fill="#000" stroke="#000" stroke-width="0.1" transform="rotate(0.05 294.88 236.66)">[30.0 : 35.0)</text>
<rect x="285.48" y="239.14" width="7.0" height="2.1" fill="#ff7a00" stroke="#000" stroke-opacity="0.75" stroke-width="0.3"/>
<text x="294.88" y="241.38" font-size="3.2" font-weight="bold" fill="#000" stroke="#000" stroke-width="0.1" transform="rotate(0.05 294.88 241.38)">[35.0 : 40.0)</text>
<rect x="285.48" y="243.86" width="7.0" height="2.1" fill="#ff1300" stroke="#000" stroke-opacity="0.75" stroke-width="0.3"/>
<text x="294.88" y="246.10" font-size="3.2" font-weight="bold" fill="#000" stroke="#000" stroke-width="0.1" transform="rotate(0.05 294.88 246.10)">[40.0 : 45.0)</text>
<rect x="285.48" y="248.58" width="7.0" height="2.1" fill="#800000" stroke="#000" stroke-opacity="0.75" stroke-width="0.3"/>
<text x="294.88" y="250.82" font-size="3.2" font-weight="bold" fill="#000" stroke="#000" stroke-width="0.1" transform="rotate(0.05 294.88 250.82)">[45.0 : inf)</text>
</g>
<g>
<text x="484.80" y="156.60" font-size="5.15" text-anchor="middle" font-weight="bold" fill="#000" transform="rotate(0.05 484.80 156.60)">WRF - 72 Hours Forecast</text>
<path d="M484.80 228.10L484.74 227.90L484.86 227.90Z" fill="#000080"/>
<path d="M484.74 227.90L484.61 227.50L484.99 227.50L484.86 227.90Z" fill="#0000ff"/>
<path d="M484.61 227.50L484.48 227.10L485.12 227.10L484.99 227.50Z" fill="#0060ff"/>
<path d="M484.48 227.10L484.29 226.50L485.31 226.50L485.12 227.10Z" fill="#00d4ff"/>
<path d="M484.29 226.50L483.65 224.49L485.95 224.49L485.31 226.50Z" fill="#4dffaa"/>
<path d="M483.65 224.49L482.34 220.39L487.26 220.39L485.95 224.49Z" fill="#aaff4d"/>
<path d="M482.34 220.39L480.55 214.78L489.05 214.78L487.26 220.39Z" fill="#ffe600"/>
<path d="M480.55 214.78L478.69 208.97L490.91 208.97L489.05 214.78Z" fill="#ff7a00"/>
<path d="M478.69 208.97L477.22 204.36L492.38 204.36L490.91 208.97Z" fill="#ff1300"/>
<path d="M477.22 204.36L476.65 202.56L492.95 202.56L492.38 204.36Z" fill="#800000"/>
<path d="M484.80 228.10L484.89 227.92L484.98 228.01Z" fill="#000080"/>
<path d="M484.89 227.92L485.08 227.57L485.33 227.82L484.98 228.01Z" fill="#0000ff"/>
<path d="M485.08 227.57L485.26 227.21L485.69 227.64L485.33 227.82Z" fill="#0060ff"/>
<path d="M485.26 227.21L485.63 226.50L486.40 227.27L485.69 227.64Z" fill="#00d4ff"/>
<path d="M485.63 226.50L486.73 224.37L488.53 226.17L486.40 227.27Z" fill="#4dffaa"/>
<path d="M486.73 224.37L488.38 221.17L491.73 224.52L488.53 226.17Z" fill="#aaff4d"/>
<path d="M488.38 221.17L491.22 215.66L497.24 221.68L491.73 224.52Z" fill="#ffe600"/>
<path d="M491.22 215.66L493.61 211.04L501.86 219.29L497.24 221.68Z" fill="#ff7a00"/>
<path d="M493.61 211.04L495.49 207.40L505.50 217.41L501.86 219.29Z" fill="#ff1300"/>
<path d="M495.49 207.40L498.33 201.89L511.01 214.57L505.50 217.41Z" fill="#800000"/>
<path d="M484.80 228.10L485.00 228.04L485.00 228.16Z" fill="#000080"/>
<path d="M485.00 228.04L485.40 227.91L485.40 228.29L485.00 228.16Z" fill="#0000ff"/>
<path d="M485.40 227.91L485.80 227.78L485.80 228.42L485.40 228.29Z" fill="#0060ff"/>
<path d="M485.80 227.78L486.60 227.52L486.60 228.68L485.80 228.42Z" fill="#00d4ff"/>
<path d="M486.60 227.52L489.21 226.69L489.21 229.51L486.60 228.68Z" fill="#4dffaa"/>
<path d="M489.21 226.69L491.51 225.96L491.51 230.24L489.21 229.51Z" fill="#aaff4d"/>
<path d="M484.80 228.10L484.99 228.20L484.90 228.29Z" fill="#000080"/>
<path d="M484.99 228.20L485.36 228.39L485.09 228.66L484.90 228.29Z" fill="#0000ff"/>
<path d="M485.36 228.39L485.73 228.58L485.28 229.03L485.09 228.66Z" fill="#0060ff"/>
<path d="M485.73 228.58L486.86 229.16L485.86 230.16L485.28 229.03Z" fill="#00d4ff"/>
<path d="M486.86 229.16L488.16 229.84L486.54 231.46L485.86 230.16Z" fill="#4dffaa"/>
<path d="M488.16 229.84L489.00 230.27L486.97 232.30L486.54 231.46Z" fill="#aaff4d"/>
<path d="M484.80 228.10L484.86 228.30L484.74 228.30Z" fill="#000080"/>
<path d="M484.86 228.30L484.99 228.70L484.61 228.70L484.74 228.30Z" fill="#0000ff"/>
<path d="M484.99 228.70L485.12 229.10L484.48 229.10L484.61 228.70Z" fill="#0060ff"/>
<path d="M485.12 229.10L485.54 230.40L484.06 230.40L484.48 229.10Z" fill="#00d4ff"/>
<path d="M485.54 230.40L485.82 231.31L483.78 231.31L484.06 230.40Z" fill="#4dffaa"/>
<path d="M485.82 231.31L487.29 235.91L482.31 235.91L483.78 231.31Z" fill="#aaff4d"/>
<path d="M487.29 235.91L488.32 239.12L481.28 239.12L482.31 235.91Z" fill="#ffe600"/>
<path d="M488.32 239.12L488.76 240.52L480.84 240.52L481.28 239.12Z" fill="#ff7a00"/>
<path d="M488.76 240.52L488.96 241.12L480.64 241.12L480.84 240.52Z" fill="#ff1300"/>
<path d="M484.80 228.10L484.71 228.28L484.62 228.19Z" fill="#000080"/>
<path d="M484.71 228.28L484.52 228.63L484.27 228.38L484.62 228.19Z" fill="#0000ff"/>
<path d="M484.52 228.63L484.34 228.99L483.91 228.56L484.27 228.38Z" fill="#0060ff"/>
<path d="M484.34 228.99L483.42 230.77L482.13 229.48L483.91 228.56Z" fill="#00d4ff"/>
<path d="M483.42 230.77L482.51 232.54L480.36 230.39L482.13 229.48Z" fill="#4dffaa"/>
<path d="M482.51 232.54L481.36 234.76L478.14 231.54L480.36 230.39Z" fill="#aaff4d"/>
<path d="M481.36 234.76L480.08 237.25L475.65 232.82L478.14 231.54Z" fill="#ffe600"/>
<path d="M480.08 237.25L479.66 238.05L474.85 233.24L475.65 232.82Z" fill="#ff7a00"/>
<path d="M479.66 238.05L479.48 238.41L474.49 233.42L474.85 233.24Z" fill="#ff1300"/>
<path d="M484.80 228.10L484.30 228.26L484.30 227.94Z" fill="#000080"/>
<path d="M484.30 228.26L482.80 228.74L482.80 227.46L484.30 227.94Z" fill="#0000ff"/>
<path d="M482.80 228.74L481.79 229.06L481.79 227.14L482.80 227.46Z" fill="#0060ff"/>
<path d="M484.80 228.10L484.44 227.92L484.62 227.74Z" fill="#000080"/>
<path d="M484.44 227.92L483.73 227.55L484.25 227.03L484.62 227.74Z" fill="#0000ff"/>
<path d="M483.73 227.55L478.58 224.89L481.59 221.88L484.25 227.03Z" fill="#0060ff"/>
<path d="M478.58 224.89L475.03 223.05L479.75 218.33L481.59 221.88Z" fill="#00d4ff"/>
<path d="M475.03 223.05L473.25 222.14L478.84 216.55L479.75 218.33Z" fill="#4dffaa"/>
<path d="M473.25 222.14L472.36 221.68L478.38 215.66L478.84 216.55Z" fill="#aaff4d"/>
<path d="M472.36 221.68L471.83 221.40L478.10 215.13L478.38 215.66Z" fill="#ffe600"/>
<line x1="484.80" y1="228.10" x2="482.82" y2="221.91" stroke="#fff" stroke-width="0.32" stroke-opacity="0.7"/>
<line x1="484.80" y1="228.10" x2="486.78" y2="221.91" stroke="#fff" stroke-width="0.32" stroke-opacity="0.7"/>
<line x1="484.80" y1="228.10" x2="487.78" y2="222.32" stroke="#fff" stroke-width="0.32" stroke-opacity="0.7"/>
<line x1="484.80" y1="228.10" x2="490.58" y2="225.12" stroke="#fff" stroke-width="0.32" stroke-opacity="0.7"/>
<line x1="484.80" y1="228.10" x2="490.99" y2="226.12" stroke="#fff" stroke-width="0.32" stroke-opacity="0.7"/>
<line x1="484.80" y1="228.10" x2="490.99" y2="230.08" stroke="#fff" stroke-width="0.32" stroke-opacity="0.7"/>
<line x1="484.80" y1="228.10" x2="489.00" y2="230.27" stroke="#fff" stroke-width="0.32" stroke-opacity="0.7"/>
<line x1="484.80" y1="228.10" x2="486.97" y2="232.30" stroke="#fff" stroke-width="0.32" stroke-opacity="0.7"/>
<line x1="484.80" y1="228.10" x2="486.78" y2="234.29" stroke="#fff" stroke-width="0.32" stroke-opacity="0.7"/>
<line x1="484.80" y1="228.10" x2="482.82" y2="234.29" stroke="#fff" stroke-width="0.32" stroke-opacity="0.7"/>
<line x1="484.80" y1="228.10" x2="481.82" y2="233.88" stroke="#fff" stroke-width="0.32" stroke-opacity="0.7"/>
<line x1="484.80" y1="228.10" x2="479.02" y2="231.08" stroke="#fff" stroke-width="0.32" stroke-opacity="0.7"/>
<line x1="484.80" y1="228.10" x2="481.79" y2="229.06" stroke="#fff" stroke-width="0.32" stroke-opacity="0.7"/>
<line x1="484.80" y1="228.10" x2="481.79" y2="227.14" stroke="#fff" stroke-width="0.32" stroke-opacity="0.7"/>
<line x1="484.80" y1="228.10" x2="479.02" y2="225.12" stroke="#fff" stroke-width="0.32" stroke-opacity="0.7"/>
<line x1="484.80" y1="228.10" x2="481.82" y2="222.32" stroke="#fff" stroke-width="0.32" stroke-opacity="0.7"/>
<circle cx="484.80" cy="228.10" r="1.1" fill="#fff" fill-opacity="0.45"/>
<circle cx="484.80" cy="228.10" r="11.62" fill="none" stroke="#d4d4d4" stroke-width="0.35"/>
<circle cx="484.80" cy="228.10" r="23.24" fill="none" stroke="#d4d4d4" stroke-width="0.35"/>
<circle cx="484.80" cy="228.10" r="34.86" fill="none" stroke="#d4d4d4" stroke-width="0.35"/>
<circle cx="484.80" cy="228.10" r="46.48" fill="none" stroke="#d4d4d4" stroke-width="0.35"/>
<line x1="484.80" y1="228.10" x2="484.80" y2="170.00" stroke="#d4d4d4" stroke-width="0.35"/>
<line x1="484.80" y1="228.10" x2="525.88" y2="187.02" stroke="#d4d4d4" stroke-width="0.35"/>
<line x1="484.80" y1="228.10" x2="542.90" y2="228.10" stroke="#d4d4d4" stroke-width="0.35"/>
<line x1="484.80" y1="228.10" x2="525.88" y2="269.18" stroke="#d4d4d4" stroke-width="0.35"/>
<line x1="484.80" y1="228.10" x2="484.80" y2="286.20" stroke="#d4d4d4" stroke-width="0.35"/>
<line x1="484.80" y1="228.10" x2="443.72" y2="269.18" stroke="#d4d4d4" stroke-width="0.35"/>
<line x1="484.80" y1="228.10" x2="426.70" y2="228.10" stroke="#d4d4d4" stroke-width="0.35"/>
<line x1="484.80" y1="228.10" x2="443.72" y2="187.02" stroke="#d4d4d4" stroke-width="0.35"/>
<circle cx="484.80" cy="228.10" r="58.10" fill="none" stroke="#2a2a2a" stroke-width="0.42"/>
<text x="484.80" y="166.75" font-size="2.9" text-anchor="middle" fill="#000" stroke="#000" stroke-width="0.09" transform="rotate(0.05 484.80 166.75)">N</text>
<text x="529.10" y="184.80" font-size="2.9" text-anchor="middle" fill="#000" stroke="#000" stroke-width="0.09" transform="rotate(0.05 529.10 184.80)">N-E</text>
<text x="547.10" y="229.15" font-size="2.9" text-anchor="middle" fill="#000" stroke="#000" stroke-width="0.09" transform="rotate(0.05 547.10 229.15)">E</text>
<text x="529.00" y="272.85" font-size="2.9" text-anchor="middle" fill="#000" stroke="#000" stroke-width="0.09" transform="rotate(0.05 529.00 272.85)">S-E</text>
<text x="484.80" y="291.50" font-size="2.9" text-anchor="middle" fill="#000" stroke="#000" stroke-width="0.09" transform="rotate(0.05 484.80 291.50)">S</text>
<text x="440.70" y="272.85" font-size="2.9" text-anchor="middle" fill="#000" stroke="#000" stroke-width="0.09" transform="rotate(0.05 440.70 272.85)">S-W</text>
<text x="421.90" y="229.15" font-size="2.9" text-anchor="middle" fill="#000" stroke="#000" stroke-width="0.09" transform="rotate(0.05 421.90 229.15)">W</text>
<text x="440.70" y="184.70" font-size="2.9" text-anchor="middle" fill="#000" stroke="#000" stroke-width="0.09" transform="rotate(0.05 440.70 184.70)">N-W</text>
<text x="492.95" y="216.96" font-size="2.9" text-anchor="middle" fill="#000" stroke="#000" stroke-width="0.05" transform="rotate(0.05 492.95 216.96)">10.0</text>
<text x="497.39" y="206.23" font-size="2.9" text-anchor="middle" fill="#000" stroke="#000" stroke-width="0.05" transform="rotate(0.05 497.39 206.23)">20.0</text>
<text x="501.84" y="195.49" font-size="2.9" text-anchor="middle" fill="#000" stroke="#000" stroke-width="0.05" transform="rotate(0.05 501.84 195.49)">30.0</text>
<text x="506.29" y="184.76" font-size="2.9" text-anchor="middle" fill="#000" stroke="#000" stroke-width="0.05" transform="rotate(0.05 506.29 184.76)">40.0</text>
<text x="510.73" y="174.02" font-size="2.9" text-anchor="middle" fill="#000" stroke="#000" stroke-width="0.05" transform="rotate(0.05 510.73 174.02)">50.0</text>
<rect x="423.45" y="204.20" width="33.9" height="47.4" rx="0.6" fill="#fff" fill-opacity="0.8" stroke="#d0d0d0" stroke-width="0.3"/>
<rect x="424.65" y="206.10" width="7.0" height="2.1" fill="#000080" stroke="#000" stroke-opacity="0.75" stroke-width="0.3"/>
<text x="434.05" y="208.34" font-size="3.2" font-weight="bold" fill="#000" stroke="#000" stroke-width="0.1" transform="rotate(0.05 434.05 208.34)">[0.0 : 5.0)</text>
<rect x="424.65" y="210.82" width="7.0" height="2.1" fill="#0000ff" stroke="#000" stroke-opacity="0.75" stroke-width="0.3"/>
<text x="434.05" y="213.06" font-size="3.2" font-weight="bold" fill="#000" stroke="#000" stroke-width="0.1" transform="rotate(0.05 434.05 213.06)">[5.0 : 10.0)</text>
<rect x="424.65" y="215.54" width="7.0" height="2.1" fill="#0060ff" stroke="#000" stroke-opacity="0.75" stroke-width="0.3"/>
<text x="434.05" y="217.78" font-size="3.2" font-weight="bold" fill="#000" stroke="#000" stroke-width="0.1" transform="rotate(0.05 434.05 217.78)">[10.0 : 15.0)</text>
<rect x="424.65" y="220.26" width="7.0" height="2.1" fill="#00d4ff" stroke="#000" stroke-opacity="0.75" stroke-width="0.3"/>
<text x="434.05" y="222.50" font-size="3.2" font-weight="bold" fill="#000" stroke="#000" stroke-width="0.1" transform="rotate(0.05 434.05 222.50)">[15.0 : 20.0)</text>
<rect x="424.65" y="224.98" width="7.0" height="2.1" fill="#4dffaa" stroke="#000" stroke-opacity="0.75" stroke-width="0.3"/>
<text x="434.05" y="227.22" font-size="3.2" font-weight="bold" fill="#000" stroke="#000" stroke-width="0.1" transform="rotate(0.05 434.05 227.22)">[20.0 : 25.0)</text>
<rect x="424.65" y="229.70" width="7.0" height="2.1" fill="#aaff4d" stroke="#000" stroke-opacity="0.75" stroke-width="0.3"/>
<text x="434.05" y="231.94" font-size="3.2" font-weight="bold" fill="#000" stroke="#000" stroke-width="0.1" transform="rotate(0.05 434.05 231.94)">[25.0 : 30.0)</text>
<rect x="424.65" y="234.42" width="7.0" height="2.1" fill="#ffe600" stroke="#000" stroke-opacity="0.75" stroke-width="0.3"/>
<text x="434.05" y="236.66" font-size="3.2" font-weight="bold" fill="#000" stroke="#000" stroke-width="0.1" transform="rotate(0.05 434.05 236.66)">[30.0 : 35.0)</text>
<rect x="424.65" y="239.14" width="7.0" height="2.1" fill="#ff7a00" stroke="#000" stroke-opacity="0.75" stroke-width="0.3"/>
<text x="434.05" y="241.38" font-size="3.2" font-weight="bold" fill="#000" stroke="#000" stroke-width="0.1" transform="rotate(0.05 434.05 241.38)">[35.0 : 40.0)</text>
<rect x="424.65" y="243.86" width="7.0" height="2.1" fill="#ff1300" stroke="#000" stroke-opacity="0.75" stroke-width="0.3"/>
<text x="434.05" y="246.10" font-size="3.2" font-weight="bold" fill="#000" stroke="#000" stroke-width="0.1" transform="rotate(0.05 434.05 246.10)">[40.0 : 45.0)</text>
<rect x="424.65" y="248.58" width="7.0" height="2.1" fill="#800000" stroke="#000" stroke-opacity="0.75" stroke-width="0.3"/>
<text x="434.05" y="250.82" font-size="3.2" font-weight="bold" fill="#000" stroke="#000" stroke-width="0.1" transform="rotate(0.05 434.05 250.82)">[45.0 : inf)</text>
</g>
</g></svg></body></html>
